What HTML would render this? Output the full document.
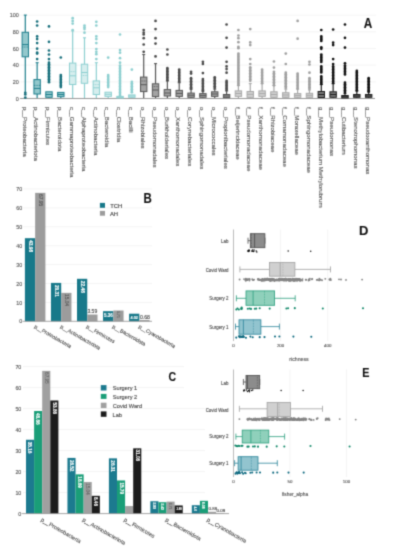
<!DOCTYPE html>
<html><head><meta charset="utf-8"><style>
html,body{margin:0;padding:0;background:#fff;}
svg{display:block;font-family:"Liberation Sans", sans-serif;}
text{stroke-width:0.12px;paint-order:stroke;}
</style></head><body>
<svg width="399" height="550" viewBox="0 0 399 550">
<defs><filter id="bl" x="0" y="0" width="1" height="1" color-interpolation-filters="sRGB"><feConvolveMatrix order="3" kernelMatrix="1 4 1 4 16 4 1 4 1" divisor="36" edgeMode="duplicate"/></filter></defs>
<g filter="url(#bl)">
<rect width="399" height="550" fill="#fff"/>
<line x1="20" y1="81.83" x2="376" y2="81.83" stroke="#efefef" stroke-width="0.7" />
<line x1="20" y1="65.16" x2="376" y2="65.16" stroke="#efefef" stroke-width="0.7" />
<line x1="20" y1="48.49" x2="376" y2="48.49" stroke="#efefef" stroke-width="0.7" />
<line x1="20" y1="31.82" x2="376" y2="31.82" stroke="#efefef" stroke-width="0.7" />
<line x1="20" y1="15.15" x2="376" y2="15.15" stroke="#efefef" stroke-width="0.7" />
<text transform="translate(15.76 100.64) scale(0.88 1)" font-size="6.2" fill="#555" stroke="#555" text-anchor="start" font-weight="normal" >0</text>
<text transform="translate(12.73 83.97) scale(0.88 1)" font-size="6.2" fill="#555" stroke="#555" text-anchor="start" font-weight="normal" >20</text>
<text transform="translate(12.73 67.3) scale(0.88 1)" font-size="6.2" fill="#555" stroke="#555" text-anchor="start" font-weight="normal" >40</text>
<text transform="translate(12.73 50.63) scale(0.88 1)" font-size="6.2" fill="#555" stroke="#555" text-anchor="start" font-weight="normal" >60</text>
<text transform="translate(12.73 33.96) scale(0.88 1)" font-size="6.2" fill="#555" stroke="#555" text-anchor="start" font-weight="normal" >80</text>
<text transform="translate(9.71 17.29) scale(0.88 1)" font-size="6.2" fill="#555" stroke="#555" text-anchor="start" font-weight="normal" >100</text>
<line x1="20" y1="98.5" x2="375" y2="98.5" stroke="#8f8f8f" stroke-width="0.9" />
<line x1="25.3" y1="15.1" x2="25.3" y2="32.3" stroke="#1d7e8c" stroke-width="1.2" />
<line x1="25.3" y1="56.8" x2="25.3" y2="92.7" stroke="#1d7e8c" stroke-width="1.2" />
<line x1="23.8" y1="15.1" x2="26.8" y2="15.1" stroke="#1d7e8c" stroke-width="1.1" />
<rect x="22.1" y="32.3" width="6.4" height="24.5" fill="#93c8cc" stroke="#1d7e8c" stroke-width="1.0" />
<line x1="22.1" y1="44.6" x2="28.5" y2="44.6" stroke="#1d7e8c" stroke-width="1.0" />
<line x1="22.1" y1="47" x2="28.5" y2="47" stroke="#1d7e8c" stroke-width="0.8" stroke-dasharray="1 0.7"/>
<circle cx="25.3" cy="92.8" r="1.35" fill="#176f7c"/>
<circle cx="25.3" cy="94.5" r="1.35" fill="#176f7c"/>
<circle cx="25.3" cy="97.6" r="1.35" fill="#176f7c"/>
<text transform="translate(22.5 106.9) rotate(90)" font-size="6.1" fill="#505050" stroke="#505050" text-anchor="start" font-weight="normal" >p__Proteobacteria</text>
<line x1="37.14" y1="62.7" x2="37.14" y2="79.6" stroke="#1d7e8c" stroke-width="1.2" />
<line x1="37.14" y1="94" x2="37.14" y2="98" stroke="#1d7e8c" stroke-width="1.2" />
<line x1="35.64" y1="62.7" x2="38.64" y2="62.7" stroke="#1d7e8c" stroke-width="1.1" />
<rect x="33.94" y="79.6" width="6.4" height="14.4" fill="#93c8cc" stroke="#1d7e8c" stroke-width="1.0" />
<line x1="33.94" y1="88.4" x2="40.34" y2="88.4" stroke="#1d7e8c" stroke-width="1.0" />
<line x1="33.94" y1="85.4" x2="40.34" y2="85.4" stroke="#1d7e8c" stroke-width="0.8" stroke-dasharray="1 0.7"/>
<circle cx="37.14" cy="21.5" r="1.35" fill="#176f7c"/>
<circle cx="37.14" cy="25.5" r="1.35" fill="#176f7c"/>
<circle cx="37.14" cy="36.4" r="1.35" fill="#176f7c"/>
<circle cx="37.14" cy="39.1" r="1.35" fill="#176f7c"/>
<circle cx="37.14" cy="43.1" r="1.35" fill="#176f7c"/>
<circle cx="37.14" cy="48.7" r="1.35" fill="#176f7c"/>
<circle cx="37.14" cy="52.7" r="1.35" fill="#176f7c"/>
<circle cx="37.14" cy="53.6" r="1.35" fill="#176f7c"/>
<circle cx="37.14" cy="59.1" r="1.35" fill="#176f7c"/>
<text transform="translate(34.34 106.9) rotate(90)" font-size="6.1" fill="#505050" stroke="#505050" text-anchor="start" font-weight="normal" >p__Actinobacteriota</text>
<line x1="48.98" y1="91.8" x2="48.98" y2="91.8" stroke="#1d7e8c" stroke-width="1.2" />
<line x1="48.98" y1="97.3" x2="48.98" y2="98" stroke="#1d7e8c" stroke-width="1.2" />
<rect x="45.78" y="91.8" width="6.4" height="5.5" fill="#93c8cc" stroke="#1d7e8c" stroke-width="1.0" />
<line x1="45.78" y1="94.5" x2="52.18" y2="94.5" stroke="#1d7e8c" stroke-width="1.0" />
<circle cx="48.98" cy="26.4" r="1.35" fill="#176f7c"/>
<circle cx="48.98" cy="41.8" r="1.35" fill="#176f7c"/>
<circle cx="48.98" cy="50.5" r="1.35" fill="#176f7c"/>
<circle cx="48.98" cy="54.5" r="1.35" fill="#176f7c"/>
<circle cx="48.98" cy="59.1" r="1.35" fill="#176f7c"/>
<circle cx="48.98" cy="62.7" r="1.35" fill="#176f7c"/>
<circle cx="48.98" cy="64.2" r="1.35" fill="#176f7c"/>
<circle cx="48.98" cy="65.7" r="1.35" fill="#176f7c"/>
<circle cx="48.98" cy="67.2" r="1.35" fill="#176f7c"/>
<circle cx="48.98" cy="68.7" r="1.35" fill="#176f7c"/>
<circle cx="48.98" cy="70.2" r="1.35" fill="#176f7c"/>
<circle cx="48.98" cy="71.7" r="1.35" fill="#176f7c"/>
<circle cx="48.98" cy="73.2" r="1.35" fill="#176f7c"/>
<circle cx="48.98" cy="74.7" r="1.35" fill="#176f7c"/>
<circle cx="48.98" cy="76.2" r="1.35" fill="#176f7c"/>
<circle cx="48.98" cy="77.7" r="1.35" fill="#176f7c"/>
<circle cx="48.98" cy="79.2" r="1.35" fill="#176f7c"/>
<circle cx="48.98" cy="80.7" r="1.35" fill="#176f7c"/>
<circle cx="48.98" cy="82.2" r="1.35" fill="#176f7c"/>
<text transform="translate(46.18 106.9) rotate(90)" font-size="6.1" fill="#505050" stroke="#505050" text-anchor="start" font-weight="normal" >p__Firmicutes</text>
<line x1="60.82" y1="92.4" x2="60.82" y2="92.4" stroke="#1d7e8c" stroke-width="1.2" />
<line x1="60.82" y1="96.7" x2="60.82" y2="98" stroke="#1d7e8c" stroke-width="1.2" />
<rect x="57.62" y="92.4" width="6.4" height="4.3" fill="#93c8cc" stroke="#1d7e8c" stroke-width="1.0" />
<line x1="57.62" y1="94.5" x2="64.02" y2="94.5" stroke="#1d7e8c" stroke-width="1.0" />
<circle cx="60.82" cy="57.5" r="1.35" fill="#176f7c"/>
<circle cx="60.82" cy="75.1" r="1.35" fill="#176f7c"/>
<circle cx="60.82" cy="76.6" r="1.35" fill="#176f7c"/>
<circle cx="60.82" cy="78.1" r="1.35" fill="#176f7c"/>
<circle cx="60.82" cy="79.6" r="1.35" fill="#176f7c"/>
<circle cx="60.82" cy="81.1" r="1.35" fill="#176f7c"/>
<circle cx="60.82" cy="82.6" r="1.35" fill="#176f7c"/>
<circle cx="60.82" cy="84.1" r="1.35" fill="#176f7c"/>
<circle cx="60.82" cy="85.6" r="1.35" fill="#176f7c"/>
<circle cx="60.82" cy="87.1" r="1.35" fill="#176f7c"/>
<text transform="translate(58.02 106.9) rotate(90)" font-size="6.1" fill="#505050" stroke="#505050" text-anchor="start" font-weight="normal" >p__Bacteroidota</text>
<line x1="72.66" y1="30.9" x2="72.66" y2="63.1" stroke="#8dcfd0" stroke-width="1.2" />
<line x1="72.66" y1="84.5" x2="72.66" y2="98" stroke="#8dcfd0" stroke-width="1.2" />
<line x1="71.16" y1="30.9" x2="74.16" y2="30.9" stroke="#8dcfd0" stroke-width="1.1" />
<rect x="69.46" y="63.1" width="6.4" height="21.4" fill="#d6eeee" stroke="#8dcfd0" stroke-width="1.0" />
<line x1="69.46" y1="75.8" x2="75.86" y2="75.8" stroke="#8dcfd0" stroke-width="1.0" />
<line x1="69.46" y1="71.6" x2="75.86" y2="71.6" stroke="#8dcfd0" stroke-width="0.8" stroke-dasharray="1 0.7"/>
<circle cx="72.66" cy="18.2" r="1.35" fill="#8dcfd0"/>
<circle cx="72.66" cy="20.9" r="1.35" fill="#8dcfd0"/>
<circle cx="72.66" cy="23.6" r="1.35" fill="#8dcfd0"/>
<circle cx="72.66" cy="30" r="1.35" fill="#8dcfd0"/>
<text transform="translate(69.86 106.9) rotate(90)" font-size="6.1" fill="#505050" stroke="#505050" text-anchor="start" font-weight="normal" >c__Gammaproteobacteria</text>
<line x1="84.5" y1="37.8" x2="84.5" y2="64.2" stroke="#8dcfd0" stroke-width="1.2" />
<line x1="84.5" y1="83.3" x2="84.5" y2="98" stroke="#8dcfd0" stroke-width="1.2" />
<line x1="83" y1="37.8" x2="86" y2="37.8" stroke="#8dcfd0" stroke-width="1.1" />
<rect x="81.3" y="64.2" width="6.4" height="19.1" fill="#d6eeee" stroke="#8dcfd0" stroke-width="1.0" />
<line x1="81.3" y1="72.5" x2="87.7" y2="72.5" stroke="#8dcfd0" stroke-width="1.0" />
<line x1="81.3" y1="75.5" x2="87.7" y2="75.5" stroke="#8dcfd0" stroke-width="0.8" stroke-dasharray="1 0.7"/>
<circle cx="84.5" cy="25.5" r="1.35" fill="#8dcfd0"/>
<circle cx="84.5" cy="27.3" r="1.35" fill="#8dcfd0"/>
<circle cx="84.5" cy="29.1" r="1.35" fill="#8dcfd0"/>
<circle cx="84.5" cy="32.7" r="1.35" fill="#8dcfd0"/>
<text transform="translate(81.7 106.9) rotate(90)" font-size="6.1" fill="#505050" stroke="#505050" text-anchor="start" font-weight="normal" >c__Alphaproteobacteria</text>
<line x1="96.34" y1="62.7" x2="96.34" y2="80.9" stroke="#8dcfd0" stroke-width="1.2" />
<line x1="96.34" y1="94.5" x2="96.34" y2="98" stroke="#8dcfd0" stroke-width="1.2" />
<line x1="94.84" y1="62.7" x2="97.84" y2="62.7" stroke="#8dcfd0" stroke-width="1.1" />
<rect x="93.14" y="80.9" width="6.4" height="13.6" fill="#d6eeee" stroke="#8dcfd0" stroke-width="1.0" />
<line x1="93.14" y1="87.8" x2="99.54" y2="87.8" stroke="#8dcfd0" stroke-width="1.0" />
<line x1="93.14" y1="84.6" x2="99.54" y2="84.6" stroke="#8dcfd0" stroke-width="0.8" stroke-dasharray="1 0.7"/>
<circle cx="96.34" cy="21.8" r="1.35" fill="#8dcfd0"/>
<circle cx="96.34" cy="25.5" r="1.35" fill="#8dcfd0"/>
<circle cx="96.34" cy="36.4" r="1.35" fill="#8dcfd0"/>
<circle cx="96.34" cy="39.1" r="1.35" fill="#8dcfd0"/>
<circle cx="96.34" cy="43.1" r="1.35" fill="#8dcfd0"/>
<circle cx="96.34" cy="49.1" r="1.35" fill="#8dcfd0"/>
<circle cx="96.34" cy="51.8" r="1.35" fill="#8dcfd0"/>
<circle cx="96.34" cy="54.2" r="1.35" fill="#8dcfd0"/>
<circle cx="96.34" cy="59.1" r="1.35" fill="#8dcfd0"/>
<text transform="translate(93.54 106.9) rotate(90)" font-size="6.1" fill="#505050" stroke="#505050" text-anchor="start" font-weight="normal" >c__Actinobacteria</text>
<line x1="108.18" y1="92.2" x2="108.18" y2="92.2" stroke="#8dcfd0" stroke-width="1.2" />
<line x1="108.18" y1="96.4" x2="108.18" y2="98" stroke="#8dcfd0" stroke-width="1.2" />
<rect x="104.98" y="92.2" width="6.4" height="4.2" fill="#d6eeee" stroke="#8dcfd0" stroke-width="1.0" />
<line x1="104.98" y1="94.3" x2="111.38" y2="94.3" stroke="#8dcfd0" stroke-width="1.0" />
<circle cx="108.18" cy="57.6" r="1.35" fill="#8dcfd0"/>
<circle cx="108.18" cy="75.1" r="1.35" fill="#8dcfd0"/>
<circle cx="108.18" cy="76.6" r="1.35" fill="#8dcfd0"/>
<circle cx="108.18" cy="78.1" r="1.35" fill="#8dcfd0"/>
<circle cx="108.18" cy="79.6" r="1.35" fill="#8dcfd0"/>
<circle cx="108.18" cy="81.1" r="1.35" fill="#8dcfd0"/>
<circle cx="108.18" cy="82.6" r="1.35" fill="#8dcfd0"/>
<circle cx="108.18" cy="84.1" r="1.35" fill="#8dcfd0"/>
<circle cx="108.18" cy="85.6" r="1.35" fill="#8dcfd0"/>
<circle cx="108.18" cy="87.1" r="1.35" fill="#8dcfd0"/>
<text transform="translate(105.38 106.9) rotate(90)" font-size="6.1" fill="#505050" stroke="#505050" text-anchor="start" font-weight="normal" >c__Bacteroidia</text>
<line x1="120.02" y1="96.4" x2="120.02" y2="96.4" stroke="#8dcfd0" stroke-width="1.2" />
<line x1="120.02" y1="98" x2="120.02" y2="98" stroke="#8dcfd0" stroke-width="1.2" />
<rect x="116.82" y="96.4" width="6.4" height="1.6" fill="#d6eeee" stroke="#8dcfd0" stroke-width="1.0" />
<line x1="116.82" y1="97.2" x2="123.22" y2="97.2" stroke="#8dcfd0" stroke-width="1.0" />
<circle cx="120.02" cy="34.5" r="1.35" fill="#8dcfd0"/>
<circle cx="120.02" cy="50" r="1.35" fill="#8dcfd0"/>
<circle cx="120.02" cy="52.7" r="1.35" fill="#8dcfd0"/>
<circle cx="120.02" cy="58.2" r="1.35" fill="#8dcfd0"/>
<circle cx="120.02" cy="62.7" r="1.35" fill="#8dcfd0"/>
<circle cx="120.02" cy="65.5" r="1.35" fill="#8dcfd0"/>
<circle cx="120.02" cy="67" r="1.35" fill="#8dcfd0"/>
<circle cx="120.02" cy="68.5" r="1.35" fill="#8dcfd0"/>
<circle cx="120.02" cy="70" r="1.35" fill="#8dcfd0"/>
<circle cx="120.02" cy="71.5" r="1.35" fill="#8dcfd0"/>
<circle cx="120.02" cy="73" r="1.35" fill="#8dcfd0"/>
<circle cx="120.02" cy="74.5" r="1.35" fill="#8dcfd0"/>
<circle cx="120.02" cy="76" r="1.35" fill="#8dcfd0"/>
<circle cx="120.02" cy="77.5" r="1.35" fill="#8dcfd0"/>
<circle cx="120.02" cy="79" r="1.35" fill="#8dcfd0"/>
<circle cx="120.02" cy="80.5" r="1.35" fill="#8dcfd0"/>
<circle cx="120.02" cy="82" r="1.35" fill="#8dcfd0"/>
<circle cx="120.02" cy="83.5" r="1.35" fill="#8dcfd0"/>
<circle cx="120.02" cy="85" r="1.35" fill="#8dcfd0"/>
<circle cx="120.02" cy="86.5" r="1.35" fill="#8dcfd0"/>
<circle cx="120.02" cy="88" r="1.35" fill="#8dcfd0"/>
<circle cx="120.02" cy="89.5" r="1.35" fill="#8dcfd0"/>
<circle cx="120.02" cy="91" r="1.35" fill="#8dcfd0"/>
<circle cx="120.02" cy="92.5" r="1.35" fill="#8dcfd0"/>
<circle cx="120.02" cy="94" r="1.35" fill="#8dcfd0"/>
<circle cx="120.02" cy="95.5" r="1.35" fill="#8dcfd0"/>
<text transform="translate(117.22 106.9) rotate(90)" font-size="6.1" fill="#505050" stroke="#505050" text-anchor="start" font-weight="normal" >c__Clostridia</text>
<line x1="131.86" y1="94.9" x2="131.86" y2="94.9" stroke="#8dcfd0" stroke-width="1.2" />
<line x1="131.86" y1="97.3" x2="131.86" y2="98" stroke="#8dcfd0" stroke-width="1.2" />
<rect x="128.66" y="94.9" width="6.4" height="2.4" fill="#d6eeee" stroke="#8dcfd0" stroke-width="1.0" />
<line x1="128.66" y1="96" x2="135.06" y2="96" stroke="#8dcfd0" stroke-width="1.0" />
<circle cx="131.86" cy="69.6" r="1.35" fill="#8dcfd0"/>
<circle cx="131.86" cy="81.8" r="1.35" fill="#8dcfd0"/>
<circle cx="131.86" cy="83.3" r="1.35" fill="#8dcfd0"/>
<circle cx="131.86" cy="84.8" r="1.35" fill="#8dcfd0"/>
<circle cx="131.86" cy="86.3" r="1.35" fill="#8dcfd0"/>
<circle cx="131.86" cy="87.8" r="1.35" fill="#8dcfd0"/>
<circle cx="131.86" cy="89.3" r="1.35" fill="#8dcfd0"/>
<circle cx="131.86" cy="90.8" r="1.35" fill="#8dcfd0"/>
<circle cx="131.86" cy="92.3" r="1.35" fill="#8dcfd0"/>
<text transform="translate(129.06 106.9) rotate(90)" font-size="6.1" fill="#505050" stroke="#505050" text-anchor="start" font-weight="normal" >c__Bacilli</text>
<line x1="143.7" y1="54.5" x2="143.7" y2="77.1" stroke="#555555" stroke-width="1.2" />
<line x1="143.7" y1="91.6" x2="143.7" y2="98" stroke="#555555" stroke-width="1.2" />
<line x1="142.2" y1="54.5" x2="145.2" y2="54.5" stroke="#555555" stroke-width="1.1" />
<rect x="140.5" y="77.1" width="6.4" height="14.5" fill="#a3a3a3" stroke="#555555" stroke-width="1.0" />
<line x1="140.5" y1="84.7" x2="146.9" y2="84.7" stroke="#555555" stroke-width="1.0" />
<line x1="140.5" y1="81" x2="146.9" y2="81" stroke="#555555" stroke-width="0.8" stroke-dasharray="1 0.7"/>
<circle cx="143.7" cy="30" r="1.35" fill="#4a4a4a"/>
<circle cx="143.7" cy="32.7" r="1.35" fill="#4a4a4a"/>
<circle cx="143.7" cy="34.5" r="1.35" fill="#4a4a4a"/>
<circle cx="143.7" cy="38.2" r="1.35" fill="#4a4a4a"/>
<circle cx="143.7" cy="44.5" r="1.35" fill="#4a4a4a"/>
<circle cx="143.7" cy="51.8" r="1.35" fill="#4a4a4a"/>
<text transform="translate(140.9 106.9) rotate(90)" font-size="6.1" fill="#505050" stroke="#505050" text-anchor="start" font-weight="normal" >o__Rhizobiales</text>
<line x1="155.54" y1="63.6" x2="155.54" y2="83.8" stroke="#555555" stroke-width="1.2" />
<line x1="155.54" y1="96.6" x2="155.54" y2="98" stroke="#555555" stroke-width="1.2" />
<line x1="154.04" y1="63.6" x2="157.04" y2="63.6" stroke="#555555" stroke-width="1.1" />
<rect x="152.34" y="83.8" width="6.4" height="12.8" fill="#a3a3a3" stroke="#555555" stroke-width="1.0" />
<line x1="152.34" y1="90" x2="158.74" y2="90" stroke="#555555" stroke-width="1.0" />
<line x1="152.34" y1="86.6" x2="158.74" y2="86.6" stroke="#555555" stroke-width="0.8" stroke-dasharray="1 0.7"/>
<circle cx="155.54" cy="20.9" r="1.35" fill="#4a4a4a"/>
<circle cx="155.54" cy="29.1" r="1.35" fill="#4a4a4a"/>
<circle cx="155.54" cy="38.2" r="1.35" fill="#4a4a4a"/>
<circle cx="155.54" cy="43.6" r="1.35" fill="#4a4a4a"/>
<circle cx="155.54" cy="56.4" r="1.35" fill="#4a4a4a"/>
<text transform="translate(152.74 106.9) rotate(90)" font-size="6.1" fill="#505050" stroke="#505050" text-anchor="start" font-weight="normal" >o__Pseudomonadales</text>
<line x1="167.38" y1="80.9" x2="167.38" y2="89.6" stroke="#555555" stroke-width="1.2" />
<line x1="167.38" y1="96" x2="167.38" y2="98" stroke="#555555" stroke-width="1.2" />
<line x1="165.88" y1="80.9" x2="168.88" y2="80.9" stroke="#555555" stroke-width="1.1" />
<rect x="164.18" y="89.6" width="6.4" height="6.4" fill="#a3a3a3" stroke="#555555" stroke-width="1.0" />
<line x1="164.18" y1="93" x2="170.58" y2="93" stroke="#555555" stroke-width="1.0" />
<circle cx="167.38" cy="49.5" r="1.35" fill="#4a4a4a"/>
<circle cx="167.38" cy="54.5" r="1.35" fill="#4a4a4a"/>
<circle cx="167.38" cy="68.2" r="1.35" fill="#4a4a4a"/>
<circle cx="167.38" cy="69.7" r="1.35" fill="#4a4a4a"/>
<circle cx="167.38" cy="71.2" r="1.35" fill="#4a4a4a"/>
<circle cx="167.38" cy="72.7" r="1.35" fill="#4a4a4a"/>
<circle cx="167.38" cy="74.2" r="1.35" fill="#4a4a4a"/>
<circle cx="167.38" cy="75.7" r="1.35" fill="#4a4a4a"/>
<circle cx="167.38" cy="77.2" r="1.35" fill="#4a4a4a"/>
<circle cx="167.38" cy="78.7" r="1.35" fill="#4a4a4a"/>
<circle cx="167.38" cy="80.2" r="1.35" fill="#4a4a4a"/>
<text transform="translate(164.58 106.9) rotate(90)" font-size="6.1" fill="#505050" stroke="#505050" text-anchor="start" font-weight="normal" >o__Burkholderiales</text>
<line x1="179.22" y1="82.7" x2="179.22" y2="90.4" stroke="#555555" stroke-width="1.2" />
<line x1="179.22" y1="96.4" x2="179.22" y2="98" stroke="#555555" stroke-width="1.2" />
<line x1="177.72" y1="82.7" x2="180.72" y2="82.7" stroke="#555555" stroke-width="1.1" />
<rect x="176.02" y="90.4" width="6.4" height="6" fill="#a3a3a3" stroke="#555555" stroke-width="1.0" />
<line x1="176.02" y1="93.4" x2="182.42" y2="93.4" stroke="#555555" stroke-width="1.0" />
<circle cx="179.22" cy="69.6" r="1.35" fill="#4a4a4a"/>
<circle cx="179.22" cy="71.1" r="1.35" fill="#4a4a4a"/>
<circle cx="179.22" cy="72.6" r="1.35" fill="#4a4a4a"/>
<circle cx="179.22" cy="74.1" r="1.35" fill="#4a4a4a"/>
<circle cx="179.22" cy="75.6" r="1.35" fill="#4a4a4a"/>
<circle cx="179.22" cy="77.1" r="1.35" fill="#4a4a4a"/>
<circle cx="179.22" cy="78.6" r="1.35" fill="#4a4a4a"/>
<circle cx="179.22" cy="80.1" r="1.35" fill="#4a4a4a"/>
<circle cx="179.22" cy="81.6" r="1.35" fill="#4a4a4a"/>
<text transform="translate(176.42 106.9) rotate(90)" font-size="6.1" fill="#505050" stroke="#505050" text-anchor="start" font-weight="normal" >o__Xanthomonadales</text>
<line x1="191.06" y1="89.1" x2="191.06" y2="93.1" stroke="#555555" stroke-width="1.2" />
<line x1="191.06" y1="97.3" x2="191.06" y2="98" stroke="#555555" stroke-width="1.2" />
<line x1="189.56" y1="89.1" x2="192.56" y2="89.1" stroke="#555555" stroke-width="1.1" />
<rect x="187.86" y="93.1" width="6.4" height="4.2" fill="#a3a3a3" stroke="#555555" stroke-width="1.0" />
<line x1="187.86" y1="95.2" x2="194.26" y2="95.2" stroke="#555555" stroke-width="1.0" />
<circle cx="191.06" cy="71.8" r="1.35" fill="#4a4a4a"/>
<circle cx="191.06" cy="73.6" r="1.35" fill="#4a4a4a"/>
<circle cx="191.06" cy="78.2" r="1.35" fill="#4a4a4a"/>
<circle cx="191.06" cy="79.7" r="1.35" fill="#4a4a4a"/>
<circle cx="191.06" cy="81.2" r="1.35" fill="#4a4a4a"/>
<circle cx="191.06" cy="82.7" r="1.35" fill="#4a4a4a"/>
<circle cx="191.06" cy="84.2" r="1.35" fill="#4a4a4a"/>
<circle cx="191.06" cy="85.7" r="1.35" fill="#4a4a4a"/>
<circle cx="191.06" cy="87.2" r="1.35" fill="#4a4a4a"/>
<circle cx="191.06" cy="88.7" r="1.35" fill="#4a4a4a"/>
<text transform="translate(188.26 106.9) rotate(90)" font-size="6.1" fill="#505050" stroke="#505050" text-anchor="start" font-weight="normal" >o__Corynebacteriales</text>
<line x1="202.9" y1="91" x2="202.9" y2="93.6" stroke="#555555" stroke-width="1.2" />
<line x1="202.9" y1="97.3" x2="202.9" y2="98" stroke="#555555" stroke-width="1.2" />
<line x1="201.4" y1="91" x2="204.4" y2="91" stroke="#555555" stroke-width="1.1" />
<rect x="199.7" y="93.6" width="6.4" height="3.7" fill="#a3a3a3" stroke="#555555" stroke-width="1.0" />
<line x1="199.7" y1="95.4" x2="206.1" y2="95.4" stroke="#555555" stroke-width="1.0" />
<circle cx="202.9" cy="61.8" r="1.35" fill="#4a4a4a"/>
<circle cx="202.9" cy="64" r="1.35" fill="#4a4a4a"/>
<circle cx="202.9" cy="73.1" r="1.35" fill="#4a4a4a"/>
<circle cx="202.9" cy="79" r="1.35" fill="#4a4a4a"/>
<circle cx="202.9" cy="80.5" r="1.35" fill="#4a4a4a"/>
<circle cx="202.9" cy="82" r="1.35" fill="#4a4a4a"/>
<circle cx="202.9" cy="83.5" r="1.35" fill="#4a4a4a"/>
<circle cx="202.9" cy="85" r="1.35" fill="#4a4a4a"/>
<circle cx="202.9" cy="86.5" r="1.35" fill="#4a4a4a"/>
<circle cx="202.9" cy="88" r="1.35" fill="#4a4a4a"/>
<circle cx="202.9" cy="89.5" r="1.35" fill="#4a4a4a"/>
<circle cx="202.9" cy="91" r="1.35" fill="#4a4a4a"/>
<text transform="translate(200.1 106.9) rotate(90)" font-size="6.1" fill="#505050" stroke="#505050" text-anchor="start" font-weight="normal" >o__Sphingomonadales</text>
<line x1="214.74" y1="89.1" x2="214.74" y2="91.8" stroke="#555555" stroke-width="1.2" />
<line x1="214.74" y1="96.4" x2="214.74" y2="98" stroke="#555555" stroke-width="1.2" />
<line x1="213.24" y1="89.1" x2="216.24" y2="89.1" stroke="#555555" stroke-width="1.1" />
<rect x="211.54" y="91.8" width="6.4" height="4.6" fill="#a3a3a3" stroke="#555555" stroke-width="1.0" />
<line x1="211.54" y1="94" x2="217.94" y2="94" stroke="#555555" stroke-width="1.0" />
<circle cx="214.74" cy="77.3" r="1.35" fill="#4a4a4a"/>
<circle cx="214.74" cy="78.8" r="1.35" fill="#4a4a4a"/>
<circle cx="214.74" cy="80.3" r="1.35" fill="#4a4a4a"/>
<circle cx="214.74" cy="81.8" r="1.35" fill="#4a4a4a"/>
<circle cx="214.74" cy="83.3" r="1.35" fill="#4a4a4a"/>
<circle cx="214.74" cy="84.8" r="1.35" fill="#4a4a4a"/>
<circle cx="214.74" cy="86.3" r="1.35" fill="#4a4a4a"/>
<circle cx="214.74" cy="87.8" r="1.35" fill="#4a4a4a"/>
<text transform="translate(211.94 106.9) rotate(90)" font-size="6.1" fill="#505050" stroke="#505050" text-anchor="start" font-weight="normal" >o__Micrococcales</text>
<line x1="226.58" y1="90.9" x2="226.58" y2="94.5" stroke="#555555" stroke-width="1.2" />
<line x1="226.58" y1="97.6" x2="226.58" y2="98" stroke="#555555" stroke-width="1.2" />
<line x1="225.08" y1="90.9" x2="228.08" y2="90.9" stroke="#555555" stroke-width="1.1" />
<rect x="223.38" y="94.5" width="6.4" height="3.1" fill="#a3a3a3" stroke="#555555" stroke-width="1.0" />
<line x1="223.38" y1="96" x2="229.78" y2="96" stroke="#555555" stroke-width="1.0" />
<circle cx="226.58" cy="24.5" r="1.35" fill="#4a4a4a"/>
<circle cx="226.58" cy="37.8" r="1.35" fill="#4a4a4a"/>
<circle cx="226.58" cy="47.6" r="1.35" fill="#4a4a4a"/>
<circle cx="226.58" cy="61.8" r="1.35" fill="#4a4a4a"/>
<circle cx="226.58" cy="66.4" r="1.35" fill="#4a4a4a"/>
<circle cx="226.58" cy="69.1" r="1.35" fill="#4a4a4a"/>
<circle cx="226.58" cy="72.7" r="1.35" fill="#4a4a4a"/>
<circle cx="226.58" cy="80.9" r="1.35" fill="#4a4a4a"/>
<circle cx="226.58" cy="82.4" r="1.35" fill="#4a4a4a"/>
<circle cx="226.58" cy="83.9" r="1.35" fill="#4a4a4a"/>
<circle cx="226.58" cy="85.4" r="1.35" fill="#4a4a4a"/>
<circle cx="226.58" cy="86.9" r="1.35" fill="#4a4a4a"/>
<circle cx="226.58" cy="88.4" r="1.35" fill="#4a4a4a"/>
<circle cx="226.58" cy="89.9" r="1.35" fill="#4a4a4a"/>
<text transform="translate(223.78 106.9) rotate(90)" font-size="6.1" fill="#505050" stroke="#505050" text-anchor="start" font-weight="normal" >o__Propionibacteriales</text>
<line x1="238.42" y1="85.5" x2="238.42" y2="90.9" stroke="#a8a8a8" stroke-width="1.2" />
<line x1="238.42" y1="96.4" x2="238.42" y2="98" stroke="#a8a8a8" stroke-width="1.2" />
<line x1="236.92" y1="85.5" x2="239.92" y2="85.5" stroke="#a8a8a8" stroke-width="1.1" />
<rect x="235.22" y="90.9" width="6.4" height="5.5" fill="#d0d0d0" stroke="#a8a8a8" stroke-width="1.0" />
<line x1="235.22" y1="93.5" x2="241.62" y2="93.5" stroke="#a8a8a8" stroke-width="1.0" />
<circle cx="238.42" cy="30" r="1.35" fill="#a0a0a0"/>
<circle cx="238.42" cy="35.5" r="1.35" fill="#a0a0a0"/>
<circle cx="238.42" cy="38.2" r="1.35" fill="#a0a0a0"/>
<circle cx="238.42" cy="42.2" r="1.35" fill="#a0a0a0"/>
<circle cx="238.42" cy="46.9" r="1.35" fill="#a0a0a0"/>
<circle cx="238.42" cy="48.2" r="1.35" fill="#a0a0a0"/>
<circle cx="238.42" cy="53.6" r="1.35" fill="#a0a0a0"/>
<circle cx="238.42" cy="55.1" r="1.35" fill="#a0a0a0"/>
<circle cx="238.42" cy="56.6" r="1.35" fill="#a0a0a0"/>
<circle cx="238.42" cy="58.1" r="1.35" fill="#a0a0a0"/>
<circle cx="238.42" cy="59.6" r="1.35" fill="#a0a0a0"/>
<circle cx="238.42" cy="61.1" r="1.35" fill="#a0a0a0"/>
<circle cx="238.42" cy="62.6" r="1.35" fill="#a0a0a0"/>
<circle cx="238.42" cy="64.1" r="1.35" fill="#a0a0a0"/>
<circle cx="238.42" cy="65.6" r="1.35" fill="#a0a0a0"/>
<circle cx="238.42" cy="67.1" r="1.35" fill="#a0a0a0"/>
<circle cx="238.42" cy="68.6" r="1.35" fill="#a0a0a0"/>
<circle cx="238.42" cy="70.1" r="1.35" fill="#a0a0a0"/>
<circle cx="238.42" cy="71.6" r="1.35" fill="#a0a0a0"/>
<circle cx="238.42" cy="73.1" r="1.35" fill="#a0a0a0"/>
<circle cx="238.42" cy="74.6" r="1.35" fill="#a0a0a0"/>
<circle cx="238.42" cy="76.1" r="1.35" fill="#a0a0a0"/>
<circle cx="238.42" cy="77.6" r="1.35" fill="#a0a0a0"/>
<circle cx="238.42" cy="79.1" r="1.35" fill="#a0a0a0"/>
<circle cx="238.42" cy="80.6" r="1.35" fill="#a0a0a0"/>
<circle cx="238.42" cy="82.1" r="1.35" fill="#a0a0a0"/>
<circle cx="238.42" cy="83.6" r="1.35" fill="#a0a0a0"/>
<circle cx="238.42" cy="85.1" r="1.35" fill="#a0a0a0"/>
<text transform="translate(235.62 106.9) rotate(90)" font-size="6.1" fill="#505050" stroke="#505050" text-anchor="start" font-weight="normal" >f__Beijerinckiaceae</text>
<line x1="250.26" y1="83.6" x2="250.26" y2="91.5" stroke="#a8a8a8" stroke-width="1.2" />
<line x1="250.26" y1="97.3" x2="250.26" y2="98" stroke="#a8a8a8" stroke-width="1.2" />
<line x1="248.76" y1="83.6" x2="251.76" y2="83.6" stroke="#a8a8a8" stroke-width="1.1" />
<rect x="247.06" y="91.5" width="6.4" height="5.8" fill="#d0d0d0" stroke="#a8a8a8" stroke-width="1.0" />
<line x1="247.06" y1="94.3" x2="253.46" y2="94.3" stroke="#a8a8a8" stroke-width="1.0" />
<circle cx="250.26" cy="29.1" r="1.35" fill="#a0a0a0"/>
<circle cx="250.26" cy="42.4" r="1.35" fill="#a0a0a0"/>
<circle cx="250.26" cy="45.1" r="1.35" fill="#a0a0a0"/>
<circle cx="250.26" cy="59.1" r="1.35" fill="#a0a0a0"/>
<circle cx="250.26" cy="64" r="1.35" fill="#a0a0a0"/>
<circle cx="250.26" cy="67.3" r="1.35" fill="#a0a0a0"/>
<circle cx="250.26" cy="68.8" r="1.35" fill="#a0a0a0"/>
<circle cx="250.26" cy="70.3" r="1.35" fill="#a0a0a0"/>
<circle cx="250.26" cy="71.8" r="1.35" fill="#a0a0a0"/>
<circle cx="250.26" cy="73.3" r="1.35" fill="#a0a0a0"/>
<circle cx="250.26" cy="74.8" r="1.35" fill="#a0a0a0"/>
<circle cx="250.26" cy="76.3" r="1.35" fill="#a0a0a0"/>
<circle cx="250.26" cy="77.8" r="1.35" fill="#a0a0a0"/>
<circle cx="250.26" cy="79.3" r="1.35" fill="#a0a0a0"/>
<circle cx="250.26" cy="80.8" r="1.35" fill="#a0a0a0"/>
<text transform="translate(247.46 106.9) rotate(90)" font-size="6.1" fill="#505050" stroke="#505050" text-anchor="start" font-weight="normal" >f__Pseudomonadaceae</text>
<line x1="262.1" y1="83.6" x2="262.1" y2="90.9" stroke="#a8a8a8" stroke-width="1.2" />
<line x1="262.1" y1="96.4" x2="262.1" y2="98" stroke="#a8a8a8" stroke-width="1.2" />
<line x1="260.6" y1="83.6" x2="263.6" y2="83.6" stroke="#a8a8a8" stroke-width="1.1" />
<rect x="258.9" y="90.9" width="6.4" height="5.5" fill="#d0d0d0" stroke="#a8a8a8" stroke-width="1.0" />
<line x1="258.9" y1="93.6" x2="265.3" y2="93.6" stroke="#a8a8a8" stroke-width="1.0" />
<circle cx="262.1" cy="69.6" r="1.35" fill="#a0a0a0"/>
<circle cx="262.1" cy="71.1" r="1.35" fill="#a0a0a0"/>
<circle cx="262.1" cy="72.6" r="1.35" fill="#a0a0a0"/>
<circle cx="262.1" cy="74.1" r="1.35" fill="#a0a0a0"/>
<circle cx="262.1" cy="75.6" r="1.35" fill="#a0a0a0"/>
<circle cx="262.1" cy="77.1" r="1.35" fill="#a0a0a0"/>
<circle cx="262.1" cy="78.6" r="1.35" fill="#a0a0a0"/>
<circle cx="262.1" cy="80.1" r="1.35" fill="#a0a0a0"/>
<circle cx="262.1" cy="81.6" r="1.35" fill="#a0a0a0"/>
<circle cx="262.1" cy="83.1" r="1.35" fill="#a0a0a0"/>
<text transform="translate(259.3 106.9) rotate(90)" font-size="6.1" fill="#505050" stroke="#505050" text-anchor="start" font-weight="normal" >f__Xanthomonadaceae</text>
<line x1="273.94" y1="85.5" x2="273.94" y2="91.8" stroke="#a8a8a8" stroke-width="1.2" />
<line x1="273.94" y1="97.3" x2="273.94" y2="98" stroke="#a8a8a8" stroke-width="1.2" />
<line x1="272.44" y1="85.5" x2="275.44" y2="85.5" stroke="#a8a8a8" stroke-width="1.1" />
<rect x="270.74" y="91.8" width="6.4" height="5.5" fill="#d0d0d0" stroke="#a8a8a8" stroke-width="1.0" />
<line x1="270.74" y1="94.5" x2="277.14" y2="94.5" stroke="#a8a8a8" stroke-width="1.0" />
<circle cx="273.94" cy="61.5" r="1.35" fill="#a0a0a0"/>
<circle cx="273.94" cy="67.6" r="1.35" fill="#a0a0a0"/>
<circle cx="273.94" cy="71.8" r="1.35" fill="#a0a0a0"/>
<circle cx="273.94" cy="73.3" r="1.35" fill="#a0a0a0"/>
<circle cx="273.94" cy="74.8" r="1.35" fill="#a0a0a0"/>
<circle cx="273.94" cy="76.3" r="1.35" fill="#a0a0a0"/>
<circle cx="273.94" cy="77.8" r="1.35" fill="#a0a0a0"/>
<circle cx="273.94" cy="79.3" r="1.35" fill="#a0a0a0"/>
<circle cx="273.94" cy="80.8" r="1.35" fill="#a0a0a0"/>
<circle cx="273.94" cy="82.3" r="1.35" fill="#a0a0a0"/>
<circle cx="273.94" cy="83.8" r="1.35" fill="#a0a0a0"/>
<circle cx="273.94" cy="85.3" r="1.35" fill="#a0a0a0"/>
<text transform="translate(271.14 106.9) rotate(90)" font-size="6.1" fill="#505050" stroke="#505050" text-anchor="start" font-weight="normal" >f__Rhizobiaceae</text>
<line x1="285.78" y1="89.1" x2="285.78" y2="92.7" stroke="#a8a8a8" stroke-width="1.2" />
<line x1="285.78" y1="97.3" x2="285.78" y2="98" stroke="#a8a8a8" stroke-width="1.2" />
<line x1="284.28" y1="89.1" x2="287.28" y2="89.1" stroke="#a8a8a8" stroke-width="1.1" />
<rect x="282.58" y="92.7" width="6.4" height="4.6" fill="#d0d0d0" stroke="#a8a8a8" stroke-width="1.0" />
<line x1="282.58" y1="95" x2="288.98" y2="95" stroke="#a8a8a8" stroke-width="1.0" />
<circle cx="285.78" cy="53.6" r="1.35" fill="#a0a0a0"/>
<circle cx="285.78" cy="64" r="1.35" fill="#a0a0a0"/>
<circle cx="285.78" cy="72.7" r="1.35" fill="#a0a0a0"/>
<circle cx="285.78" cy="74.2" r="1.35" fill="#a0a0a0"/>
<circle cx="285.78" cy="75.7" r="1.35" fill="#a0a0a0"/>
<circle cx="285.78" cy="77.2" r="1.35" fill="#a0a0a0"/>
<circle cx="285.78" cy="78.7" r="1.35" fill="#a0a0a0"/>
<circle cx="285.78" cy="80.2" r="1.35" fill="#a0a0a0"/>
<circle cx="285.78" cy="81.7" r="1.35" fill="#a0a0a0"/>
<circle cx="285.78" cy="83.2" r="1.35" fill="#a0a0a0"/>
<circle cx="285.78" cy="84.7" r="1.35" fill="#a0a0a0"/>
<circle cx="285.78" cy="86.2" r="1.35" fill="#a0a0a0"/>
<circle cx="285.78" cy="87.7" r="1.35" fill="#a0a0a0"/>
<text transform="translate(282.98 106.9) rotate(90)" font-size="6.1" fill="#505050" stroke="#505050" text-anchor="start" font-weight="normal" >f__Comamonadaceae</text>
<line x1="297.62" y1="89.1" x2="297.62" y2="93.6" stroke="#a8a8a8" stroke-width="1.2" />
<line x1="297.62" y1="97.3" x2="297.62" y2="98" stroke="#a8a8a8" stroke-width="1.2" />
<line x1="296.12" y1="89.1" x2="299.12" y2="89.1" stroke="#a8a8a8" stroke-width="1.1" />
<rect x="294.42" y="93.6" width="6.4" height="3.7" fill="#d0d0d0" stroke="#a8a8a8" stroke-width="1.0" />
<line x1="294.42" y1="95.4" x2="300.82" y2="95.4" stroke="#a8a8a8" stroke-width="1.0" />
<circle cx="297.62" cy="20.9" r="1.35" fill="#a0a0a0"/>
<circle cx="297.62" cy="38.7" r="1.35" fill="#a0a0a0"/>
<circle cx="297.62" cy="73.6" r="1.35" fill="#a0a0a0"/>
<circle cx="297.62" cy="75.1" r="1.35" fill="#a0a0a0"/>
<circle cx="297.62" cy="76.6" r="1.35" fill="#a0a0a0"/>
<circle cx="297.62" cy="78.1" r="1.35" fill="#a0a0a0"/>
<circle cx="297.62" cy="79.6" r="1.35" fill="#a0a0a0"/>
<circle cx="297.62" cy="81.1" r="1.35" fill="#a0a0a0"/>
<circle cx="297.62" cy="82.6" r="1.35" fill="#a0a0a0"/>
<circle cx="297.62" cy="84.1" r="1.35" fill="#a0a0a0"/>
<circle cx="297.62" cy="85.6" r="1.35" fill="#a0a0a0"/>
<circle cx="297.62" cy="87.1" r="1.35" fill="#a0a0a0"/>
<circle cx="297.62" cy="88.6" r="1.35" fill="#a0a0a0"/>
<text transform="translate(294.82 106.9) rotate(90)" font-size="6.1" fill="#505050" stroke="#505050" text-anchor="start" font-weight="normal" >f__Moraxellaceae</text>
<line x1="309.46" y1="90" x2="309.46" y2="93.3" stroke="#a8a8a8" stroke-width="1.2" />
<line x1="309.46" y1="97.3" x2="309.46" y2="98" stroke="#a8a8a8" stroke-width="1.2" />
<line x1="307.96" y1="90" x2="310.96" y2="90" stroke="#a8a8a8" stroke-width="1.1" />
<rect x="306.26" y="93.3" width="6.4" height="4" fill="#d0d0d0" stroke="#a8a8a8" stroke-width="1.0" />
<line x1="306.26" y1="95.3" x2="312.66" y2="95.3" stroke="#a8a8a8" stroke-width="1.0" />
<circle cx="309.46" cy="61.8" r="1.35" fill="#a0a0a0"/>
<circle cx="309.46" cy="64.5" r="1.35" fill="#a0a0a0"/>
<circle cx="309.46" cy="72.7" r="1.35" fill="#a0a0a0"/>
<circle cx="309.46" cy="78.2" r="1.35" fill="#a0a0a0"/>
<circle cx="309.46" cy="79.7" r="1.35" fill="#a0a0a0"/>
<circle cx="309.46" cy="81.2" r="1.35" fill="#a0a0a0"/>
<circle cx="309.46" cy="82.7" r="1.35" fill="#a0a0a0"/>
<circle cx="309.46" cy="84.2" r="1.35" fill="#a0a0a0"/>
<circle cx="309.46" cy="85.7" r="1.35" fill="#a0a0a0"/>
<circle cx="309.46" cy="87.2" r="1.35" fill="#a0a0a0"/>
<circle cx="309.46" cy="88.7" r="1.35" fill="#a0a0a0"/>
<text transform="translate(306.66 106.9) rotate(90)" font-size="6.1" fill="#505050" stroke="#505050" text-anchor="start" font-weight="normal" >f__Sphingomonadaceae</text>
<line x1="321.3" y1="84.5" x2="321.3" y2="91.5" stroke="#1e1e1e" stroke-width="1.2" />
<line x1="321.3" y1="97.5" x2="321.3" y2="98" stroke="#1e1e1e" stroke-width="1.2" />
<line x1="319.8" y1="84.5" x2="322.8" y2="84.5" stroke="#1e1e1e" stroke-width="1.1" />
<rect x="318.1" y="91.5" width="6.4" height="6" fill="#777777" stroke="#1e1e1e" stroke-width="1.0" />
<line x1="318.1" y1="94.5" x2="324.5" y2="94.5" stroke="#1e1e1e" stroke-width="1.0" />
<circle cx="321.3" cy="30" r="1.35" fill="#111111"/>
<circle cx="321.3" cy="36.4" r="1.35" fill="#111111"/>
<circle cx="321.3" cy="37.9" r="1.35" fill="#111111"/>
<circle cx="321.3" cy="39.4" r="1.35" fill="#111111"/>
<circle cx="321.3" cy="40.9" r="1.35" fill="#111111"/>
<circle cx="321.3" cy="47.3" r="1.35" fill="#111111"/>
<circle cx="321.3" cy="48.8" r="1.35" fill="#111111"/>
<circle cx="321.3" cy="54.5" r="1.35" fill="#111111"/>
<circle cx="321.3" cy="56" r="1.35" fill="#111111"/>
<circle cx="321.3" cy="57.5" r="1.35" fill="#111111"/>
<circle cx="321.3" cy="59" r="1.35" fill="#111111"/>
<circle cx="321.3" cy="60.5" r="1.35" fill="#111111"/>
<circle cx="321.3" cy="62" r="1.35" fill="#111111"/>
<circle cx="321.3" cy="66.4" r="1.35" fill="#111111"/>
<circle cx="321.3" cy="67.9" r="1.35" fill="#111111"/>
<circle cx="321.3" cy="69.4" r="1.35" fill="#111111"/>
<circle cx="321.3" cy="70.9" r="1.35" fill="#111111"/>
<circle cx="321.3" cy="72.4" r="1.35" fill="#111111"/>
<circle cx="321.3" cy="76.4" r="1.35" fill="#111111"/>
<circle cx="321.3" cy="77.9" r="1.35" fill="#111111"/>
<circle cx="321.3" cy="79.4" r="1.35" fill="#111111"/>
<circle cx="321.3" cy="80.9" r="1.35" fill="#111111"/>
<circle cx="321.3" cy="82.4" r="1.35" fill="#111111"/>
<circle cx="321.3" cy="83.9" r="1.35" fill="#111111"/>
<text transform="translate(318.5 106.9) rotate(90)" font-size="6.1" fill="#505050" stroke="#505050" text-anchor="start" font-weight="normal" >g__Methylobacterium Methylorubrum</text>
<line x1="333.14" y1="83.6" x2="333.14" y2="91.8" stroke="#1e1e1e" stroke-width="1.2" />
<line x1="333.14" y1="97.3" x2="333.14" y2="98" stroke="#1e1e1e" stroke-width="1.2" />
<line x1="331.64" y1="83.6" x2="334.64" y2="83.6" stroke="#1e1e1e" stroke-width="1.1" />
<rect x="329.94" y="91.8" width="6.4" height="5.5" fill="#777777" stroke="#1e1e1e" stroke-width="1.0" />
<line x1="329.94" y1="94.5" x2="336.34" y2="94.5" stroke="#1e1e1e" stroke-width="1.0" />
<circle cx="333.14" cy="29.5" r="1.35" fill="#111111"/>
<circle cx="333.14" cy="42.7" r="1.35" fill="#111111"/>
<circle cx="333.14" cy="45.1" r="1.35" fill="#111111"/>
<circle cx="333.14" cy="59.1" r="1.35" fill="#111111"/>
<circle cx="333.14" cy="64" r="1.35" fill="#111111"/>
<circle cx="333.14" cy="66.4" r="1.35" fill="#111111"/>
<circle cx="333.14" cy="67.9" r="1.35" fill="#111111"/>
<circle cx="333.14" cy="69.4" r="1.35" fill="#111111"/>
<circle cx="333.14" cy="70.9" r="1.35" fill="#111111"/>
<circle cx="333.14" cy="72.4" r="1.35" fill="#111111"/>
<circle cx="333.14" cy="73.9" r="1.35" fill="#111111"/>
<circle cx="333.14" cy="75.4" r="1.35" fill="#111111"/>
<circle cx="333.14" cy="76.9" r="1.35" fill="#111111"/>
<circle cx="333.14" cy="78.4" r="1.35" fill="#111111"/>
<circle cx="333.14" cy="79.9" r="1.35" fill="#111111"/>
<circle cx="333.14" cy="81.4" r="1.35" fill="#111111"/>
<circle cx="333.14" cy="82.9" r="1.35" fill="#111111"/>
<text transform="translate(330.34 106.9) rotate(90)" font-size="6.1" fill="#505050" stroke="#505050" text-anchor="start" font-weight="normal" >g__Pseudomonas</text>
<line x1="344.98" y1="94.5" x2="344.98" y2="95.5" stroke="#1e1e1e" stroke-width="1.2" />
<line x1="344.98" y1="98" x2="344.98" y2="98" stroke="#1e1e1e" stroke-width="1.2" />
<rect x="341.78" y="95.5" width="6.4" height="2.5" fill="#777777" stroke="#1e1e1e" stroke-width="1.0" />
<line x1="341.78" y1="96.8" x2="348.18" y2="96.8" stroke="#1e1e1e" stroke-width="1.0" />
<circle cx="344.98" cy="24.5" r="1.35" fill="#111111"/>
<circle cx="344.98" cy="37.8" r="1.35" fill="#111111"/>
<circle cx="344.98" cy="47.6" r="1.35" fill="#111111"/>
<circle cx="344.98" cy="63.3" r="1.35" fill="#111111"/>
<circle cx="344.98" cy="65.5" r="1.35" fill="#111111"/>
<circle cx="344.98" cy="67" r="1.35" fill="#111111"/>
<circle cx="344.98" cy="68.5" r="1.35" fill="#111111"/>
<circle cx="344.98" cy="70" r="1.35" fill="#111111"/>
<circle cx="344.98" cy="71.5" r="1.35" fill="#111111"/>
<circle cx="344.98" cy="73" r="1.35" fill="#111111"/>
<circle cx="344.98" cy="74.5" r="1.35" fill="#111111"/>
<circle cx="344.98" cy="82.7" r="1.35" fill="#111111"/>
<circle cx="344.98" cy="84.2" r="1.35" fill="#111111"/>
<circle cx="344.98" cy="85.7" r="1.35" fill="#111111"/>
<circle cx="344.98" cy="87.2" r="1.35" fill="#111111"/>
<circle cx="344.98" cy="88.7" r="1.35" fill="#111111"/>
<circle cx="344.98" cy="90.2" r="1.35" fill="#111111"/>
<circle cx="344.98" cy="91.7" r="1.35" fill="#111111"/>
<circle cx="344.98" cy="93.2" r="1.35" fill="#111111"/>
<text transform="translate(342.18 106.9) rotate(90)" font-size="6.1" fill="#505050" stroke="#505050" text-anchor="start" font-weight="normal" >g__Cutibacterium</text>
<line x1="356.82" y1="90.9" x2="356.82" y2="94.5" stroke="#1e1e1e" stroke-width="1.2" />
<line x1="356.82" y1="97.3" x2="356.82" y2="98" stroke="#1e1e1e" stroke-width="1.2" />
<line x1="355.32" y1="90.9" x2="358.32" y2="90.9" stroke="#1e1e1e" stroke-width="1.1" />
<rect x="353.62" y="94.5" width="6.4" height="2.8" fill="#777777" stroke="#1e1e1e" stroke-width="1.0" />
<line x1="353.62" y1="96" x2="360.02" y2="96" stroke="#1e1e1e" stroke-width="1.0" />
<circle cx="356.82" cy="70.9" r="1.35" fill="#111111"/>
<circle cx="356.82" cy="72.4" r="1.35" fill="#111111"/>
<circle cx="356.82" cy="73.9" r="1.35" fill="#111111"/>
<circle cx="356.82" cy="75.4" r="1.35" fill="#111111"/>
<circle cx="356.82" cy="76.9" r="1.35" fill="#111111"/>
<circle cx="356.82" cy="78.4" r="1.35" fill="#111111"/>
<circle cx="356.82" cy="79.9" r="1.35" fill="#111111"/>
<circle cx="356.82" cy="81.4" r="1.35" fill="#111111"/>
<circle cx="356.82" cy="82.9" r="1.35" fill="#111111"/>
<circle cx="356.82" cy="84.4" r="1.35" fill="#111111"/>
<circle cx="356.82" cy="85.9" r="1.35" fill="#111111"/>
<circle cx="356.82" cy="87.4" r="1.35" fill="#111111"/>
<circle cx="356.82" cy="88.9" r="1.35" fill="#111111"/>
<circle cx="356.82" cy="90.4" r="1.35" fill="#111111"/>
<text transform="translate(354.02 106.9) rotate(90)" font-size="6.1" fill="#505050" stroke="#505050" text-anchor="start" font-weight="normal" >g__Stenotrophomonas</text>
<line x1="368.66" y1="91.8" x2="368.66" y2="94.5" stroke="#1e1e1e" stroke-width="1.2" />
<line x1="368.66" y1="97.3" x2="368.66" y2="98" stroke="#1e1e1e" stroke-width="1.2" />
<line x1="367.16" y1="91.8" x2="370.16" y2="91.8" stroke="#1e1e1e" stroke-width="1.1" />
<rect x="365.46" y="94.5" width="6.4" height="2.8" fill="#777777" stroke="#1e1e1e" stroke-width="1.0" />
<line x1="365.46" y1="96" x2="371.86" y2="96" stroke="#1e1e1e" stroke-width="1.0" />
<circle cx="368.66" cy="78.2" r="1.35" fill="#111111"/>
<circle cx="368.66" cy="79.7" r="1.35" fill="#111111"/>
<circle cx="368.66" cy="81.2" r="1.35" fill="#111111"/>
<circle cx="368.66" cy="82.7" r="1.35" fill="#111111"/>
<circle cx="368.66" cy="84.2" r="1.35" fill="#111111"/>
<circle cx="368.66" cy="85.7" r="1.35" fill="#111111"/>
<circle cx="368.66" cy="87.2" r="1.35" fill="#111111"/>
<circle cx="368.66" cy="88.7" r="1.35" fill="#111111"/>
<circle cx="368.66" cy="90.2" r="1.35" fill="#111111"/>
<circle cx="368.66" cy="91.7" r="1.35" fill="#111111"/>
<text transform="translate(365.86 106.9) rotate(90)" font-size="6.1" fill="#505050" stroke="#505050" text-anchor="start" font-weight="normal" >g__Pseudoxanthomonas</text>
<text transform="translate(363.81 27.5) scale(0.856 1)" font-size="13.768115942028986" fill="#111" stroke="#111" text-anchor="start" font-weight="bold" >A</text>
<text transform="translate(19.14 323.4) scale(0.87 1)" font-size="6.1" fill="#555" stroke="#555" text-anchor="start" font-weight="normal" >0</text>
<line x1="23" y1="302.4" x2="152" y2="302.4" stroke="#efefef" stroke-width="0.7" />
<text transform="translate(16.19 304.5) scale(0.87 1)" font-size="6.1" fill="#555" stroke="#555" text-anchor="start" font-weight="normal" >10</text>
<line x1="23" y1="283.5" x2="152" y2="283.5" stroke="#efefef" stroke-width="0.7" />
<text transform="translate(16.19 285.6) scale(0.87 1)" font-size="6.1" fill="#555" stroke="#555" text-anchor="start" font-weight="normal" >20</text>
<line x1="23" y1="264.6" x2="152" y2="264.6" stroke="#efefef" stroke-width="0.7" />
<text transform="translate(16.19 266.7) scale(0.87 1)" font-size="6.1" fill="#555" stroke="#555" text-anchor="start" font-weight="normal" >30</text>
<line x1="23" y1="245.7" x2="152" y2="245.7" stroke="#efefef" stroke-width="0.7" />
<text transform="translate(16.19 247.8) scale(0.87 1)" font-size="6.1" fill="#555" stroke="#555" text-anchor="start" font-weight="normal" >40</text>
<line x1="23" y1="226.8" x2="152" y2="226.8" stroke="#efefef" stroke-width="0.7" />
<text transform="translate(16.19 228.9) scale(0.87 1)" font-size="6.1" fill="#555" stroke="#555" text-anchor="start" font-weight="normal" >50</text>
<line x1="23" y1="207.9" x2="152" y2="207.9" stroke="#efefef" stroke-width="0.7" />
<text transform="translate(16.19 210) scale(0.87 1)" font-size="6.1" fill="#555" stroke="#555" text-anchor="start" font-weight="normal" >60</text>
<line x1="23" y1="189" x2="152" y2="189" stroke="#efefef" stroke-width="0.7" />
<text transform="translate(16.19 191.1) scale(0.87 1)" font-size="6.1" fill="#555" stroke="#555" text-anchor="start" font-weight="normal" >70</text>
<rect x="24.9" y="238.18" width="10.25" height="83.12" fill="#18798a" />
<rect x="35.15" y="192.87" width="10.25" height="128.43" fill="#9c9c9c" />
<text transform="translate(33.95 327.4) rotate(30)" font-size="5.1" fill="#4a4a4a" stroke="#4a4a4a" text-anchor="start" font-weight="normal" >p__Proteobacteria</text>
<rect x="50.95" y="282.91" width="10.25" height="38.39" fill="#18798a" />
<rect x="61.2" y="292.87" width="10.25" height="28.43" fill="#9c9c9c" />
<text transform="translate(60 327.4) rotate(30)" font-size="5.1" fill="#4a4a4a" stroke="#4a4a4a" text-anchor="start" font-weight="normal" >p__Actinobacteriota</text>
<rect x="77" y="278.81" width="10.25" height="42.49" fill="#18798a" />
<rect x="87.25" y="314.51" width="10.25" height="6.79" fill="#9c9c9c" />
<text transform="translate(86.05 327.4) rotate(30)" font-size="5.1" fill="#4a4a4a" stroke="#4a4a4a" text-anchor="start" font-weight="normal" >p__Firmicutes</text>
<rect x="103.05" y="311.17" width="10.25" height="10.13" fill="#18798a" />
<rect x="113.3" y="310.51" width="10.25" height="10.79" fill="#9c9c9c" />
<text transform="translate(112.1 327.4) rotate(30)" font-size="5.1" fill="#4a4a4a" stroke="#4a4a4a" text-anchor="start" font-weight="normal" >p__Bacteroidota</text>
<rect x="129.1" y="313.7" width="10.25" height="7.6" fill="#18798a" />
<rect x="139.35" y="320.01" width="10.25" height="1.29" fill="#9c9c9c" />
<text transform="translate(138.15 327.4) rotate(30)" font-size="5.1" fill="#4a4a4a" stroke="#4a4a4a" text-anchor="start" font-weight="normal" >p__Cyanobacteria</text>
<line x1="22.5" y1="321.3" x2="152" y2="321.3" stroke="#8f8f8f" stroke-width="0.8" />
<text transform="translate(28.6 240.18) rotate(90)" font-size="4.8" fill="#fff" stroke="#fff" text-anchor="start" font-weight="bold" >43.98</text>
<text transform="translate(38.8 194.07) rotate(90)" font-size="4.8" fill="#555" stroke="#555" text-anchor="start" font-weight="normal" >67.95</text>
<text transform="translate(54.6 284.91) rotate(90)" font-size="4.8" fill="#fff" stroke="#fff" text-anchor="start" font-weight="bold" >20.31</text>
<text transform="translate(64.8 294.07) rotate(90)" font-size="4.8" fill="#555" stroke="#555" text-anchor="start" font-weight="normal" >15.04</text>
<text transform="translate(80.6 280.81) rotate(90)" font-size="4.8" fill="#fff" stroke="#fff" text-anchor="start" font-weight="bold" >22.48</text>
<text transform="translate(87.4 313.45) scale(0.97 1)" font-size="5.2" fill="#444" stroke="#444" text-anchor="start" font-weight="normal" >3.59</text>
<text transform="translate(103.96 317.25) scale(0.917 1)" font-size="4.929577464788733" fill="#fff" stroke="#fff" text-anchor="start" font-weight="bold" >5.36</text>
<text transform="translate(116.8 311.11) rotate(90)" font-size="3.6" fill="#666" stroke="#666" text-anchor="start" font-weight="normal" >5.71</text>
<text transform="translate(130.54 318.76) scale(0.933 1)" font-size="4.084507042253569" fill="#fff" stroke="#fff" text-anchor="start" font-weight="bold" >4.02</text>
<text transform="translate(139.89 318.74) scale(0.9 1)" font-size="5.8" fill="#444" stroke="#444" text-anchor="start" font-weight="normal" >0.68</text>
<rect x="99.9" y="202.9" width="5.1" height="4.9" fill="#18798a" />
<text transform="translate(110.18 207.74) scale(0.94 1)" font-size="6.2" fill="#333" stroke="#333" text-anchor="start" font-weight="normal" >TCH</text>
<rect x="99.9" y="210.9" width="5.1" height="4.8" fill="#9c9c9c" />
<text transform="translate(109.9 215.7) scale(0.94 1)" font-size="6.2" fill="#333" stroke="#333" text-anchor="start" font-weight="normal" >AH</text>
<text transform="translate(143.55 202.5) scale(0.833 1)" font-size="13.768115942028986" fill="#111" stroke="#111" text-anchor="start" font-weight="bold" >B</text>
<text transform="translate(18.34 515.7) scale(0.87 1)" font-size="6.1" fill="#555" stroke="#555" text-anchor="start" font-weight="normal" >0</text>
<line x1="23" y1="492.6" x2="205" y2="492.6" stroke="#efefef" stroke-width="0.7" />
<text transform="translate(15.39 494.7) scale(0.87 1)" font-size="6.1" fill="#555" stroke="#555" text-anchor="start" font-weight="normal" >10</text>
<line x1="23" y1="471.6" x2="205" y2="471.6" stroke="#efefef" stroke-width="0.7" />
<text transform="translate(15.39 473.7) scale(0.87 1)" font-size="6.1" fill="#555" stroke="#555" text-anchor="start" font-weight="normal" >20</text>
<line x1="23" y1="450.6" x2="205" y2="450.6" stroke="#efefef" stroke-width="0.7" />
<text transform="translate(15.39 452.7) scale(0.87 1)" font-size="6.1" fill="#555" stroke="#555" text-anchor="start" font-weight="normal" >30</text>
<line x1="23" y1="429.6" x2="205" y2="429.6" stroke="#efefef" stroke-width="0.7" />
<text transform="translate(15.39 431.7) scale(0.87 1)" font-size="6.1" fill="#555" stroke="#555" text-anchor="start" font-weight="normal" >40</text>
<line x1="23" y1="408.6" x2="205" y2="408.6" stroke="#efefef" stroke-width="0.7" />
<text transform="translate(15.39 410.7) scale(0.87 1)" font-size="6.1" fill="#555" stroke="#555" text-anchor="start" font-weight="normal" >50</text>
<line x1="23" y1="387.6" x2="184" y2="387.6" stroke="#efefef" stroke-width="0.7" />
<text transform="translate(15.39 389.7) scale(0.87 1)" font-size="6.1" fill="#555" stroke="#555" text-anchor="start" font-weight="normal" >60</text>
<line x1="23" y1="366.6" x2="184" y2="366.6" stroke="#efefef" stroke-width="0.7" />
<text transform="translate(15.39 368.7) scale(0.87 1)" font-size="6.1" fill="#555" stroke="#555" text-anchor="start" font-weight="normal" >70</text>
<rect x="26" y="439.76" width="8.1" height="73.84" fill="#1c7a8f" />
<rect x="34.1" y="410.99" width="8.1" height="102.61" fill="#1a9e78" />
<rect x="42.2" y="370.9" width="8.1" height="142.7" fill="#a0a0a0" />
<rect x="50.3" y="400.49" width="8.1" height="113.11" fill="#1c1c1c" />
<text transform="translate(40.6 520.8) rotate(30)" font-size="5.5" fill="#4a4a4a" stroke="#4a4a4a" text-anchor="start" font-weight="normal" >p__Proteobacteria</text>
<rect x="67.45" y="457.91" width="8.1" height="55.69" fill="#1c7a8f" />
<rect x="75.55" y="474.35" width="8.1" height="39.25" fill="#1a9e78" />
<rect x="83.65" y="482.02" width="8.1" height="31.58" fill="#a0a0a0" />
<rect x="91.75" y="495.83" width="8.1" height="17.77" fill="#1c1c1c" />
<text transform="translate(82.05 520.8) rotate(30)" font-size="5.5" fill="#4a4a4a" stroke="#4a4a4a" text-anchor="start" font-weight="normal" >p__Actinobacteriota</text>
<rect x="108.9" y="458.35" width="8.1" height="55.25" fill="#1c7a8f" />
<rect x="117" y="480.44" width="8.1" height="33.16" fill="#1a9e78" />
<rect x="125.1" y="506.06" width="8.1" height="7.54" fill="#a0a0a0" />
<rect x="133.2" y="448.33" width="8.1" height="65.27" fill="#1c1c1c" />
<text transform="translate(123.5 520.8) rotate(30)" font-size="5.5" fill="#4a4a4a" stroke="#4a4a4a" text-anchor="start" font-weight="normal" >p__Firmicutes</text>
<rect x="150.35" y="501.23" width="8.1" height="12.37" fill="#1c7a8f" />
<rect x="158.45" y="502.2" width="8.1" height="11.4" fill="#1a9e78" />
<rect x="166.55" y="501.61" width="8.1" height="11.99" fill="#a0a0a0" />
<rect x="174.65" y="505.45" width="8.1" height="8.15" fill="#1c1c1c" />
<text transform="translate(164.95 520.8) rotate(30)" font-size="5.5" fill="#4a4a4a" stroke="#4a4a4a" text-anchor="start" font-weight="normal" >p__Bacteroidota</text>
<rect x="191.8" y="505.2" width="8.1" height="8.4" fill="#1c7a8f" />
<rect x="199.9" y="500.83" width="8.1" height="12.77" fill="#1a9e78" />
<rect x="208" y="511.75" width="8.1" height="1.85" fill="#a0a0a0" />
<rect x="216.1" y="513.41" width="8.1" height="0.19" fill="#1c1c1c" />
<text transform="translate(206.4 520.8) rotate(30)" font-size="5.5" fill="#4a4a4a" stroke="#4a4a4a" text-anchor="start" font-weight="normal" >p__Cyanobacteria</text>
<line x1="21.6" y1="513.6" x2="229" y2="513.6" stroke="#8f8f8f" stroke-width="0.8" />
<text transform="translate(28.2 441.76) rotate(90)" font-size="4.6" fill="#fff" stroke="#fff" text-anchor="start" font-weight="bold" >35.16</text>
<text transform="translate(36.4 412.99) rotate(90)" font-size="4.6" fill="#fff" stroke="#fff" text-anchor="start" font-weight="bold" >48.86</text>
<text transform="translate(44.6 372.1) rotate(90)" font-size="4.6" fill="#666" stroke="#666" text-anchor="start" font-weight="normal" >67.95</text>
<text transform="translate(52.8 402.49) rotate(90)" font-size="4.6" fill="#fff" stroke="#fff" text-anchor="start" font-weight="bold" >53.86</text>
<text transform="translate(69.85 459.91) rotate(90)" font-size="4.6" fill="#fff" stroke="#fff" text-anchor="start" font-weight="bold" >26.52</text>
<text transform="translate(78.05 476.35) rotate(90)" font-size="4.6" fill="#fff" stroke="#fff" text-anchor="start" font-weight="bold" >18.69</text>
<text transform="translate(86.25 483.22) rotate(90)" font-size="4.6" fill="#666" stroke="#666" text-anchor="start" font-weight="normal" >15.04</text>
<text transform="translate(94.45 497.03) rotate(90)" font-size="4.6" fill="#fff" stroke="#fff" text-anchor="start" font-weight="bold" >8.46</text>
<text transform="translate(111.3 460.35) rotate(90)" font-size="4.6" fill="#fff" stroke="#fff" text-anchor="start" font-weight="bold" >26.31</text>
<text transform="translate(119.5 482.44) rotate(90)" font-size="4.6" fill="#fff" stroke="#fff" text-anchor="start" font-weight="bold" >15.79</text>
<text transform="translate(135.9 449.53) rotate(90)" font-size="4.6" fill="#fff" stroke="#fff" text-anchor="start" font-weight="bold" >31.08</text>
<text transform="translate(152.85 502.43) rotate(90)" font-size="3.4" fill="#fff" stroke="#fff" text-anchor="start" font-weight="bold" >5.89</text>
<text transform="translate(160.95 503.4) rotate(90)" font-size="3.4" fill="#fff" stroke="#fff" text-anchor="start" font-weight="bold" >5.43</text>
<text transform="translate(169.05 502.81) rotate(90)" font-size="3.4" fill="#666" stroke="#666" text-anchor="start" font-weight="bold" >5.71</text>
<text transform="translate(176.53 509.67) scale(0.783 1)" font-size="3.380281690140813" fill="#fff" stroke="#fff" text-anchor="start" font-weight="bold" >3.88</text>
<text transform="translate(194.3 506.4) rotate(90)" font-size="3.4" fill="#fff" stroke="#fff" text-anchor="start" font-weight="bold" >4.0</text>
<text transform="translate(202.4 502.03) rotate(90)" font-size="3.4" fill="#fff" stroke="#fff" text-anchor="start" font-weight="bold" >6.08</text>
<text x="208.6" y="510.15" font-size="4.4" fill="#444" stroke="#444" text-anchor="start" font-weight="normal" >0.88</text>
<text x="216.6" y="512.41" font-size="4.4" fill="#444" stroke="#444" text-anchor="start" font-weight="normal" >0.09</text>
<rect x="100.8" y="385.1" width="5.7" height="5.4" fill="#1c7a8f" />
<text transform="translate(112.74 389.8) scale(0.93 1)" font-size="6.1" fill="#444" stroke="#444" text-anchor="start" font-weight="normal" >Surgery 1</text>
<rect x="100.8" y="393.9" width="5.7" height="5" fill="#1a9e78" />
<text transform="translate(112.74 398.9) scale(0.93 1)" font-size="6.1" fill="#444" stroke="#444" text-anchor="start" font-weight="normal" >Surgery 2</text>
<rect x="100.8" y="402.7" width="5.7" height="5.4" fill="#a0a0a0" />
<text transform="translate(112.72 407.7) scale(0.93 1)" font-size="6.1" fill="#444" stroke="#444" text-anchor="start" font-weight="normal" >Covid Ward</text>
<rect x="100.8" y="411.4" width="5.7" height="5.4" fill="#1c1c1c" />
<text transform="translate(112.55 416.5) scale(0.93 1)" font-size="6.1" fill="#444" stroke="#444" text-anchor="start" font-weight="normal" >Lab</text>
<text transform="translate(168.58 380.86) scale(0.771 1)" font-size="13.6619718309859" fill="#111" stroke="#111" text-anchor="start" font-weight="bold" >C</text>
<text x="233.5" y="347" font-size="4.4" fill="#555" stroke="#555" text-anchor="middle" font-weight="normal" >0</text>
<line x1="280.6" y1="229.5" x2="280.6" y2="341" stroke="#ececec" stroke-width="0.6" />
<text x="280.6" y="347" font-size="4.4" fill="#555" stroke="#555" text-anchor="middle" font-weight="normal" >200</text>
<line x1="327.7" y1="229.5" x2="327.7" y2="341" stroke="#ececec" stroke-width="0.6" />
<text x="327.7" y="347" font-size="4.4" fill="#555" stroke="#555" text-anchor="middle" font-weight="normal" >400</text>
<line x1="233.5" y1="229.5" x2="233.5" y2="341" stroke="#aaa" stroke-width="0.8" />
<text x="299" y="361.3" font-size="5.2" fill="#555" stroke="#555" text-anchor="middle" font-weight="normal" >richness</text>
<text transform="translate(221.12 243.1) scale(0.93 1)" font-size="4.75" fill="#4a4a4a" stroke="#4a4a4a" text-anchor="start" font-weight="normal" >Lab</text>
<line x1="248" y1="240.7" x2="250.3" y2="240.7" stroke="#4a4a4a" stroke-width="0.8" />
<line x1="264.9" y1="240.7" x2="264.9" y2="240.7" stroke="#4a4a4a" stroke-width="0.8" />
<line x1="248" y1="237.7" x2="248" y2="243.7" stroke="#4a4a4a" stroke-width="0.8" />
<line x1="264.9" y1="237.7" x2="264.9" y2="243.7" stroke="#4a4a4a" stroke-width="0.8" />
<rect x="250.3" y="233.7" width="14.6" height="14" fill="#8c8c8c" stroke="#4a4a4a" stroke-width="0.8" />
<line x1="254.6" y1="233.7" x2="254.6" y2="247.7" stroke="#4a4a4a" stroke-width="0.8" />
<line x1="251.5" y1="233.7" x2="251.5" y2="247.7" stroke="#4a4a4a" stroke-width="0.6" stroke-dasharray="0.8 0.8"/>
<circle cx="251.8" cy="251.12" r="0.75" fill="#111"/>
<circle cx="256.28" cy="250.93" r="0.75" fill="#111"/>
<circle cx="252.32" cy="251.17" r="0.75" fill="#111"/>
<circle cx="249.25" cy="251.02" r="0.75" fill="#111"/>
<circle cx="253.48" cy="251.59" r="0.75" fill="#111"/>
<circle cx="248.39" cy="250.61" r="0.75" fill="#111"/>
<circle cx="248.36" cy="251.62" r="0.75" fill="#111"/>
<circle cx="254.09" cy="250.08" r="0.75" fill="#111"/>
<circle cx="256.83" cy="251.93" r="0.75" fill="#111"/>
<circle cx="253.71" cy="251.23" r="0.75" fill="#111"/>
<circle cx="249" cy="250.03" r="0.75" fill="#111"/>
<circle cx="252.52" cy="250.12" r="0.75" fill="#111"/>
<circle cx="249.31" cy="250.48" r="0.75" fill="#111"/>
<circle cx="247.79" cy="250.93" r="0.75" fill="#111"/>
<circle cx="288.2" cy="250.95" r="0.75" fill="#111"/>
<circle cx="310.7" cy="251.27" r="0.75" fill="#111"/>
<text transform="translate(205.68 271.5) scale(0.93 1)" font-size="4.75" fill="#4a4a4a" stroke="#4a4a4a" text-anchor="start" font-weight="normal" >Covid Ward</text>
<line x1="239.9" y1="269.4" x2="269.4" y2="269.4" stroke="#a0a0a0" stroke-width="0.8" />
<line x1="294.9" y1="269.4" x2="330.5" y2="269.4" stroke="#a0a0a0" stroke-width="0.8" />
<line x1="239.9" y1="266.4" x2="239.9" y2="272.4" stroke="#a0a0a0" stroke-width="0.8" />
<line x1="330.5" y1="266.4" x2="330.5" y2="272.4" stroke="#a0a0a0" stroke-width="0.8" />
<rect x="269.4" y="262.5" width="25.5" height="13.7" fill="#d0d0d0" stroke="#a0a0a0" stroke-width="0.8" />
<line x1="280.2" y1="262.5" x2="280.2" y2="276.2" stroke="#a0a0a0" stroke-width="0.8" />
<line x1="282.9" y1="262.5" x2="282.9" y2="276.2" stroke="#a0a0a0" stroke-width="0.6" stroke-dasharray="0.8 0.8"/>
<circle cx="253.34" cy="279.98" r="0.95" fill="#858585"/>
<circle cx="253" cy="280.02" r="0.95" fill="#858585"/>
<circle cx="252.23" cy="279.26" r="0.95" fill="#858585"/>
<circle cx="261.96" cy="280.69" r="0.95" fill="#858585"/>
<circle cx="259.12" cy="280.12" r="0.95" fill="#858585"/>
<circle cx="249.67" cy="279.16" r="0.95" fill="#858585"/>
<circle cx="249.2" cy="278.84" r="0.95" fill="#858585"/>
<circle cx="257.79" cy="279.5" r="0.95" fill="#858585"/>
<circle cx="259.24" cy="279.47" r="0.95" fill="#858585"/>
<circle cx="261.24" cy="280.39" r="0.95" fill="#858585"/>
<circle cx="244.01" cy="279.12" r="0.95" fill="#858585"/>
<circle cx="260.38" cy="279.64" r="0.95" fill="#858585"/>
<circle cx="261.65" cy="279.49" r="0.95" fill="#858585"/>
<circle cx="245.31" cy="279.96" r="0.95" fill="#858585"/>
<circle cx="258.01" cy="279.24" r="0.95" fill="#858585"/>
<circle cx="245.57" cy="279.37" r="0.95" fill="#858585"/>
<circle cx="261.35" cy="280.22" r="0.95" fill="#858585"/>
<circle cx="246.12" cy="279.19" r="0.95" fill="#858585"/>
<circle cx="245.82" cy="278.82" r="0.95" fill="#858585"/>
<circle cx="258.35" cy="279.06" r="0.95" fill="#858585"/>
<circle cx="254.07" cy="279.59" r="0.95" fill="#858585"/>
<circle cx="247.43" cy="280.16" r="0.95" fill="#858585"/>
<circle cx="246.36" cy="279.99" r="0.95" fill="#858585"/>
<circle cx="246.1" cy="279.54" r="0.95" fill="#858585"/>
<circle cx="247.83" cy="279.24" r="0.95" fill="#858585"/>
<circle cx="261.48" cy="280.31" r="0.95" fill="#858585"/>
<circle cx="249.47" cy="280.47" r="0.95" fill="#858585"/>
<circle cx="247.79" cy="279.49" r="0.95" fill="#858585"/>
<circle cx="259.38" cy="279.98" r="0.95" fill="#858585"/>
<circle cx="245.81" cy="280.68" r="0.95" fill="#858585"/>
<circle cx="270.32" cy="279.22" r="0.95" fill="#858585"/>
<circle cx="292.13" cy="279.36" r="0.95" fill="#858585"/>
<circle cx="273.56" cy="278.85" r="0.95" fill="#858585"/>
<circle cx="265.51" cy="279.87" r="0.95" fill="#858585"/>
<circle cx="271.48" cy="279.9" r="0.95" fill="#858585"/>
<circle cx="276.5" cy="279.61" r="0.95" fill="#858585"/>
<circle cx="299.41" cy="279.67" r="0.95" fill="#858585"/>
<circle cx="284.41" cy="280.43" r="0.95" fill="#858585"/>
<circle cx="269.13" cy="279.01" r="0.95" fill="#858585"/>
<circle cx="297.43" cy="280.34" r="0.95" fill="#858585"/>
<circle cx="271.73" cy="279.08" r="0.95" fill="#858585"/>
<circle cx="290.84" cy="280.58" r="0.95" fill="#858585"/>
<circle cx="269.67" cy="280.6" r="0.95" fill="#858585"/>
<circle cx="296.41" cy="279.91" r="0.95" fill="#858585"/>
<circle cx="278.44" cy="278.91" r="0.95" fill="#858585"/>
<circle cx="263.51" cy="280.63" r="0.95" fill="#858585"/>
<circle cx="271.3" cy="280.11" r="0.95" fill="#858585"/>
<circle cx="272.02" cy="280.35" r="0.95" fill="#858585"/>
<circle cx="285.26" cy="279.29" r="0.95" fill="#858585"/>
<circle cx="268.84" cy="280.14" r="0.95" fill="#858585"/>
<circle cx="264.68" cy="279.16" r="0.95" fill="#858585"/>
<circle cx="283.82" cy="280.4" r="0.95" fill="#858585"/>
<circle cx="285.96" cy="279.26" r="0.95" fill="#858585"/>
<circle cx="297.78" cy="279.11" r="0.95" fill="#858585"/>
<circle cx="262.65" cy="279.24" r="0.95" fill="#858585"/>
<circle cx="279.38" cy="278.82" r="0.95" fill="#858585"/>
<circle cx="268.87" cy="279.44" r="0.95" fill="#858585"/>
<circle cx="284.31" cy="278.96" r="0.95" fill="#858585"/>
<circle cx="276.12" cy="280.48" r="0.95" fill="#858585"/>
<circle cx="300.24" cy="280.01" r="0.95" fill="#858585"/>
<circle cx="288.96" cy="279.87" r="0.95" fill="#858585"/>
<circle cx="267.47" cy="278.77" r="0.95" fill="#858585"/>
<circle cx="262.7" cy="280.52" r="0.95" fill="#858585"/>
<circle cx="289.34" cy="280.63" r="0.95" fill="#858585"/>
<circle cx="262.83" cy="279.97" r="0.95" fill="#858585"/>
<circle cx="280.81" cy="280.16" r="0.95" fill="#858585"/>
<circle cx="274.44" cy="280.7" r="0.95" fill="#858585"/>
<circle cx="264.94" cy="279.79" r="0.95" fill="#858585"/>
<circle cx="290.74" cy="280.5" r="0.95" fill="#858585"/>
<circle cx="290.75" cy="280.11" r="0.95" fill="#858585"/>
<circle cx="292.94" cy="280.53" r="0.95" fill="#858585"/>
<circle cx="275.72" cy="280.07" r="0.95" fill="#858585"/>
<circle cx="297.13" cy="280.44" r="0.95" fill="#858585"/>
<circle cx="278.27" cy="280.28" r="0.95" fill="#858585"/>
<circle cx="295.68" cy="279.85" r="0.95" fill="#858585"/>
<circle cx="286.37" cy="279.46" r="0.95" fill="#858585"/>
<circle cx="284.72" cy="279.92" r="0.95" fill="#858585"/>
<circle cx="265.13" cy="279.98" r="0.95" fill="#858585"/>
<circle cx="300.74" cy="280.46" r="0.95" fill="#858585"/>
<circle cx="290.4" cy="279.48" r="0.95" fill="#858585"/>
<circle cx="290.67" cy="279.86" r="0.95" fill="#858585"/>
<circle cx="279.18" cy="280.38" r="0.95" fill="#858585"/>
<circle cx="265.27" cy="280.2" r="0.95" fill="#858585"/>
<circle cx="263.16" cy="279.9" r="0.95" fill="#858585"/>
<circle cx="280.76" cy="279.16" r="0.95" fill="#858585"/>
<circle cx="289.24" cy="279.69" r="0.95" fill="#858585"/>
<circle cx="285.97" cy="280.54" r="0.95" fill="#858585"/>
<circle cx="271.98" cy="278.72" r="0.95" fill="#858585"/>
<circle cx="273.74" cy="280.06" r="0.95" fill="#858585"/>
<circle cx="269.9" cy="279.04" r="0.95" fill="#858585"/>
<circle cx="297.32" cy="280.02" r="0.95" fill="#858585"/>
<circle cx="279.24" cy="280.48" r="0.95" fill="#858585"/>
<circle cx="274.75" cy="280.03" r="0.95" fill="#858585"/>
<circle cx="269.74" cy="279.56" r="0.95" fill="#858585"/>
<circle cx="293.43" cy="280.53" r="0.95" fill="#858585"/>
<circle cx="296.33" cy="279.47" r="0.95" fill="#858585"/>
<circle cx="284.74" cy="279.33" r="0.95" fill="#858585"/>
<circle cx="267.31" cy="279.69" r="0.95" fill="#858585"/>
<circle cx="294.65" cy="280.4" r="0.95" fill="#858585"/>
<circle cx="289.74" cy="280.6" r="0.95" fill="#858585"/>
<circle cx="272.8" cy="279.04" r="0.95" fill="#858585"/>
<circle cx="279.58" cy="279.25" r="0.95" fill="#858585"/>
<circle cx="270.35" cy="279.53" r="0.95" fill="#858585"/>
<circle cx="286.4" cy="279.69" r="0.95" fill="#858585"/>
<circle cx="274.3" cy="280.38" r="0.95" fill="#858585"/>
<circle cx="300.3" cy="279.6" r="0.95" fill="#858585"/>
<circle cx="264.91" cy="278.76" r="0.95" fill="#858585"/>
<circle cx="296.04" cy="278.78" r="0.95" fill="#858585"/>
<circle cx="289.64" cy="279.84" r="0.95" fill="#858585"/>
<circle cx="274.05" cy="280.28" r="0.95" fill="#858585"/>
<circle cx="262.75" cy="278.97" r="0.95" fill="#858585"/>
<circle cx="279.74" cy="278.75" r="0.95" fill="#858585"/>
<circle cx="294.36" cy="279.17" r="0.95" fill="#858585"/>
<circle cx="267.49" cy="278.79" r="0.95" fill="#858585"/>
<circle cx="286.54" cy="279.59" r="0.95" fill="#858585"/>
<circle cx="286.57" cy="280.01" r="0.95" fill="#858585"/>
<circle cx="293.49" cy="280.62" r="0.95" fill="#858585"/>
<circle cx="288.7" cy="279.1" r="0.95" fill="#858585"/>
<circle cx="280.53" cy="279.06" r="0.95" fill="#858585"/>
<circle cx="262.42" cy="279.64" r="0.95" fill="#858585"/>
<circle cx="289.85" cy="279.06" r="0.95" fill="#858585"/>
<circle cx="272.62" cy="279.39" r="0.95" fill="#858585"/>
<circle cx="289.2" cy="279.74" r="0.95" fill="#858585"/>
<circle cx="285.96" cy="280.21" r="0.95" fill="#858585"/>
<circle cx="277.35" cy="280.28" r="0.95" fill="#858585"/>
<circle cx="297.34" cy="278.87" r="0.95" fill="#858585"/>
<circle cx="298.37" cy="280.14" r="0.95" fill="#858585"/>
<circle cx="267.07" cy="279.61" r="0.95" fill="#858585"/>
<circle cx="286.4" cy="280.52" r="0.95" fill="#858585"/>
<circle cx="276.7" cy="279.84" r="0.95" fill="#858585"/>
<circle cx="296.29" cy="280.29" r="0.95" fill="#858585"/>
<circle cx="298.83" cy="279.63" r="0.95" fill="#858585"/>
<circle cx="287.4" cy="279.11" r="0.95" fill="#858585"/>
<circle cx="290.16" cy="280.34" r="0.95" fill="#858585"/>
<circle cx="287.02" cy="280.14" r="0.95" fill="#858585"/>
<circle cx="270.32" cy="280.5" r="0.95" fill="#858585"/>
<circle cx="300.24" cy="280.65" r="0.95" fill="#858585"/>
<circle cx="282.94" cy="280.28" r="0.95" fill="#858585"/>
<circle cx="274.5" cy="280.52" r="0.95" fill="#858585"/>
<circle cx="295.38" cy="279.4" r="0.95" fill="#858585"/>
<circle cx="265.23" cy="279.58" r="0.95" fill="#858585"/>
<circle cx="283.46" cy="280.24" r="0.95" fill="#858585"/>
<circle cx="281.01" cy="278.76" r="0.95" fill="#858585"/>
<circle cx="293.56" cy="278.83" r="0.95" fill="#858585"/>
<circle cx="293.19" cy="279.05" r="0.95" fill="#858585"/>
<circle cx="275.07" cy="280.28" r="0.95" fill="#858585"/>
<circle cx="267.48" cy="279" r="0.95" fill="#858585"/>
<circle cx="282.14" cy="280.15" r="0.95" fill="#858585"/>
<circle cx="294.76" cy="280.08" r="0.95" fill="#858585"/>
<circle cx="298.88" cy="279.69" r="0.95" fill="#858585"/>
<circle cx="299.02" cy="278.87" r="0.95" fill="#858585"/>
<circle cx="270.64" cy="279.75" r="0.95" fill="#858585"/>
<circle cx="273.32" cy="280.16" r="0.95" fill="#858585"/>
<circle cx="286.92" cy="279.75" r="0.95" fill="#858585"/>
<circle cx="294.9" cy="279.82" r="0.95" fill="#858585"/>
<circle cx="274.16" cy="279.46" r="0.95" fill="#858585"/>
<circle cx="294.97" cy="280.5" r="0.95" fill="#858585"/>
<circle cx="270.12" cy="280.4" r="0.95" fill="#858585"/>
<circle cx="299.77" cy="279.75" r="0.95" fill="#858585"/>
<circle cx="284.35" cy="279.1" r="0.95" fill="#858585"/>
<circle cx="282.9" cy="279.71" r="0.95" fill="#858585"/>
<circle cx="285.6" cy="278.76" r="0.95" fill="#858585"/>
<circle cx="299.81" cy="279.73" r="0.95" fill="#858585"/>
<circle cx="277.62" cy="280.3" r="0.95" fill="#858585"/>
<circle cx="283.95" cy="279.68" r="0.95" fill="#858585"/>
<circle cx="288.95" cy="278.83" r="0.95" fill="#858585"/>
<circle cx="283.01" cy="279.53" r="0.95" fill="#858585"/>
<circle cx="299.32" cy="280.55" r="0.95" fill="#858585"/>
<circle cx="272.5" cy="279.65" r="0.95" fill="#858585"/>
<circle cx="266.95" cy="279.57" r="0.95" fill="#858585"/>
<circle cx="293.81" cy="280.5" r="0.95" fill="#858585"/>
<circle cx="280.58" cy="279.33" r="0.95" fill="#858585"/>
<circle cx="269.47" cy="279.94" r="0.95" fill="#858585"/>
<circle cx="298.09" cy="278.96" r="0.95" fill="#858585"/>
<circle cx="292.39" cy="278.75" r="0.95" fill="#858585"/>
<circle cx="269.57" cy="279.15" r="0.95" fill="#858585"/>
<circle cx="288.79" cy="279.34" r="0.95" fill="#858585"/>
<circle cx="275.86" cy="279.94" r="0.95" fill="#858585"/>
<circle cx="266.09" cy="280.16" r="0.95" fill="#858585"/>
<circle cx="266.79" cy="279.72" r="0.95" fill="#858585"/>
<circle cx="271.77" cy="279.1" r="0.95" fill="#858585"/>
<circle cx="282.68" cy="279.57" r="0.95" fill="#858585"/>
<circle cx="276.65" cy="279.53" r="0.95" fill="#858585"/>
<circle cx="282.64" cy="279.02" r="0.95" fill="#858585"/>
<circle cx="269.97" cy="279.96" r="0.95" fill="#858585"/>
<circle cx="286.9" cy="279.76" r="0.95" fill="#858585"/>
<circle cx="295.2" cy="279.92" r="0.95" fill="#858585"/>
<circle cx="295.41" cy="279.17" r="0.95" fill="#858585"/>
<circle cx="290.89" cy="280.32" r="0.95" fill="#858585"/>
<circle cx="297.2" cy="279.33" r="0.95" fill="#858585"/>
<circle cx="274.28" cy="280.55" r="0.95" fill="#858585"/>
<circle cx="270.51" cy="280.7" r="0.95" fill="#858585"/>
<circle cx="296.61" cy="278.97" r="0.95" fill="#858585"/>
<circle cx="271.33" cy="280.15" r="0.95" fill="#858585"/>
<circle cx="272.12" cy="278.89" r="0.95" fill="#858585"/>
<circle cx="294.45" cy="279.54" r="0.95" fill="#858585"/>
<circle cx="292.81" cy="278.95" r="0.95" fill="#858585"/>
<circle cx="277.71" cy="280.07" r="0.95" fill="#858585"/>
<circle cx="262.69" cy="279.1" r="0.95" fill="#858585"/>
<circle cx="288.61" cy="280.52" r="0.95" fill="#858585"/>
<circle cx="299.77" cy="278.93" r="0.95" fill="#858585"/>
<circle cx="281.72" cy="280.22" r="0.95" fill="#858585"/>
<circle cx="281.61" cy="280.07" r="0.95" fill="#858585"/>
<circle cx="269.37" cy="278.84" r="0.95" fill="#858585"/>
<circle cx="266.14" cy="278.77" r="0.95" fill="#858585"/>
<circle cx="283.52" cy="279.73" r="0.95" fill="#858585"/>
<circle cx="284.18" cy="278.99" r="0.95" fill="#858585"/>
<circle cx="269.2" cy="279.11" r="0.95" fill="#858585"/>
<circle cx="294.77" cy="280.68" r="0.95" fill="#858585"/>
<circle cx="298.15" cy="278.89" r="0.95" fill="#858585"/>
<circle cx="264.42" cy="280.6" r="0.95" fill="#858585"/>
<circle cx="280.02" cy="280.23" r="0.95" fill="#858585"/>
<circle cx="274.75" cy="279.63" r="0.95" fill="#858585"/>
<circle cx="282.1" cy="279.56" r="0.95" fill="#858585"/>
<circle cx="285.44" cy="278.73" r="0.95" fill="#858585"/>
<circle cx="289.34" cy="280.39" r="0.95" fill="#858585"/>
<circle cx="269.07" cy="279.61" r="0.95" fill="#858585"/>
<circle cx="290.83" cy="279.51" r="0.95" fill="#858585"/>
<circle cx="269.61" cy="279.03" r="0.95" fill="#858585"/>
<circle cx="281.99" cy="278.73" r="0.95" fill="#858585"/>
<circle cx="296.83" cy="280.3" r="0.95" fill="#858585"/>
<circle cx="289.48" cy="280.42" r="0.95" fill="#858585"/>
<circle cx="286.55" cy="279.51" r="0.95" fill="#858585"/>
<circle cx="285.38" cy="279.71" r="0.95" fill="#858585"/>
<circle cx="300.32" cy="280.31" r="0.95" fill="#858585"/>
<circle cx="272.07" cy="280.52" r="0.95" fill="#858585"/>
<circle cx="291.03" cy="280.26" r="0.95" fill="#858585"/>
<circle cx="293.77" cy="279.51" r="0.95" fill="#858585"/>
<circle cx="296.97" cy="280.46" r="0.95" fill="#858585"/>
<circle cx="289.1" cy="280.23" r="0.95" fill="#858585"/>
<circle cx="291.84" cy="279.51" r="0.95" fill="#858585"/>
<circle cx="290.18" cy="278.84" r="0.95" fill="#858585"/>
<circle cx="275.33" cy="279.64" r="0.95" fill="#858585"/>
<circle cx="262.41" cy="279.41" r="0.95" fill="#858585"/>
<circle cx="286.91" cy="279.95" r="0.95" fill="#858585"/>
<circle cx="271.05" cy="280.59" r="0.95" fill="#858585"/>
<circle cx="287.98" cy="279.38" r="0.95" fill="#858585"/>
<circle cx="287.73" cy="279.84" r="0.95" fill="#858585"/>
<circle cx="282.79" cy="279.48" r="0.95" fill="#858585"/>
<circle cx="301" cy="279.98" r="0.95" fill="#858585"/>
<circle cx="322.04" cy="280.22" r="0.95" fill="#858585"/>
<circle cx="330.4" cy="278.75" r="0.95" fill="#858585"/>
<circle cx="319.46" cy="280.18" r="0.95" fill="#858585"/>
<circle cx="308.7" cy="279.5" r="0.95" fill="#858585"/>
<circle cx="302.51" cy="279.09" r="0.95" fill="#858585"/>
<circle cx="312.27" cy="278.9" r="0.95" fill="#858585"/>
<circle cx="308.53" cy="280.51" r="0.95" fill="#858585"/>
<circle cx="317.5" cy="279.72" r="0.95" fill="#858585"/>
<circle cx="330.01" cy="279.84" r="0.95" fill="#858585"/>
<circle cx="330.85" cy="279.98" r="0.95" fill="#858585"/>
<circle cx="325.29" cy="278.85" r="0.95" fill="#858585"/>
<circle cx="318.93" cy="280.22" r="0.95" fill="#858585"/>
<circle cx="302.35" cy="280.56" r="0.95" fill="#858585"/>
<circle cx="305.8" cy="279.64" r="0.95" fill="#858585"/>
<circle cx="306.07" cy="279.69" r="0.95" fill="#858585"/>
<circle cx="319.34" cy="278.82" r="0.95" fill="#858585"/>
<circle cx="329.36" cy="279.54" r="0.95" fill="#858585"/>
<circle cx="316.8" cy="279.9" r="0.95" fill="#858585"/>
<circle cx="311.97" cy="279.27" r="0.95" fill="#858585"/>
<circle cx="320.65" cy="279.82" r="0.95" fill="#858585"/>
<circle cx="309.51" cy="280.13" r="0.95" fill="#858585"/>
<circle cx="309.88" cy="278.73" r="0.95" fill="#858585"/>
<circle cx="239.6" cy="279.5" r="0.95" fill="#858585"/>
<circle cx="339" cy="279.33" r="0.95" fill="#858585"/>
<circle cx="341" cy="279.43" r="0.95" fill="#858585"/>
<circle cx="346" cy="279.9" r="0.95" fill="#858585"/>
<circle cx="362.1" cy="279.61" r="0.95" fill="#858585"/>
<text transform="translate(209.37 299.76) scale(0.93 1)" font-size="4.75" fill="#4a4a4a" stroke="#4a4a4a" text-anchor="start" font-weight="normal" >Surgery 2</text>
<line x1="236.4" y1="298.3" x2="246" y2="298.3" stroke="#2a9d7c" stroke-width="0.8" />
<line x1="274.6" y1="298.3" x2="295.2" y2="298.3" stroke="#2a9d7c" stroke-width="0.8" />
<line x1="236.4" y1="295.3" x2="236.4" y2="301.3" stroke="#2a9d7c" stroke-width="0.8" />
<line x1="295.2" y1="295.3" x2="295.2" y2="301.3" stroke="#2a9d7c" stroke-width="0.8" />
<rect x="246" y="290.9" width="28.6" height="14.4" fill="#8fd0bb" stroke="#2a9d7c" stroke-width="0.8" />
<line x1="253.1" y1="290.9" x2="253.1" y2="305.3" stroke="#2a9d7c" stroke-width="0.8" />
<line x1="264.5" y1="290.9" x2="264.5" y2="305.3" stroke="#2a9d7c" stroke-width="0.6" stroke-dasharray="0.8 0.8"/>
<circle cx="241.39" cy="309" r="1.05" fill="#13896a"/>
<circle cx="236.3" cy="309.48" r="1.05" fill="#13896a"/>
<circle cx="241.67" cy="307.65" r="1.05" fill="#13896a"/>
<circle cx="241.43" cy="308.36" r="1.05" fill="#13896a"/>
<circle cx="238.87" cy="309.45" r="1.05" fill="#13896a"/>
<circle cx="237.46" cy="308.55" r="1.05" fill="#13896a"/>
<circle cx="241.6" cy="308.85" r="1.05" fill="#13896a"/>
<circle cx="247.8" cy="308.68" r="1.05" fill="#13896a"/>
<circle cx="249.5" cy="308.47" r="1.05" fill="#13896a"/>
<circle cx="251" cy="308.88" r="1.05" fill="#13896a"/>
<circle cx="254.8" cy="308.75" r="1.05" fill="#13896a"/>
<circle cx="256.2" cy="308.58" r="1.05" fill="#13896a"/>
<circle cx="259.7" cy="308.19" r="1.05" fill="#13896a"/>
<circle cx="269.7" cy="308.6" r="1.05" fill="#13896a"/>
<circle cx="286.4" cy="308.46" r="1.05" fill="#13896a"/>
<circle cx="288.1" cy="308.26" r="1.05" fill="#13896a"/>
<circle cx="294.8" cy="308.14" r="1.05" fill="#13896a"/>
<circle cx="322.8" cy="308.52" r="1.05" fill="#13896a"/>
<circle cx="363" cy="308.2" r="1.05" fill="#13896a"/>
<text transform="translate(209.35 328.56) scale(0.93 1)" font-size="4.75" fill="#4a4a4a" stroke="#4a4a4a" text-anchor="start" font-weight="normal" >Surgery 1</text>
<line x1="235.5" y1="326.6" x2="239" y2="326.6" stroke="#2b8499" stroke-width="0.8" />
<line x1="260.9" y1="326.6" x2="279.4" y2="326.6" stroke="#2b8499" stroke-width="0.8" />
<line x1="235.5" y1="323.6" x2="235.5" y2="329.6" stroke="#2b8499" stroke-width="0.8" />
<line x1="279.4" y1="323.6" x2="279.4" y2="329.6" stroke="#2b8499" stroke-width="0.8" />
<rect x="239" y="319.8" width="21.9" height="14.4" fill="#92c4cf" stroke="#2b8499" stroke-width="0.8" />
<line x1="243.4" y1="319.8" x2="243.4" y2="334.2" stroke="#2b8499" stroke-width="0.8" />
<line x1="253.4" y1="319.8" x2="253.4" y2="334.2" stroke="#2b8499" stroke-width="0.6" stroke-dasharray="0.8 0.8"/>
<circle cx="239.87" cy="337.14" r="1.05" fill="#0f6a80"/>
<circle cx="240.01" cy="336.32" r="1.05" fill="#0f6a80"/>
<circle cx="241.4" cy="336.64" r="1.05" fill="#0f6a80"/>
<circle cx="243.56" cy="336.86" r="1.05" fill="#0f6a80"/>
<circle cx="245.97" cy="337.71" r="1.05" fill="#0f6a80"/>
<circle cx="243.08" cy="336.28" r="1.05" fill="#0f6a80"/>
<circle cx="236.25" cy="337.59" r="1.05" fill="#0f6a80"/>
<circle cx="243.63" cy="337.05" r="1.05" fill="#0f6a80"/>
<circle cx="238.95" cy="336.34" r="1.05" fill="#0f6a80"/>
<circle cx="242.54" cy="336.93" r="1.05" fill="#0f6a80"/>
<circle cx="241.51" cy="337.07" r="1.05" fill="#0f6a80"/>
<circle cx="243.29" cy="336.18" r="1.05" fill="#0f6a80"/>
<circle cx="250.4" cy="336.6" r="1.05" fill="#0f6a80"/>
<circle cx="252.7" cy="337.18" r="1.05" fill="#0f6a80"/>
<circle cx="259.7" cy="337.13" r="1.05" fill="#0f6a80"/>
<circle cx="264.5" cy="337.1" r="1.05" fill="#0f6a80"/>
<circle cx="275" cy="336.43" r="1.05" fill="#0f6a80"/>
<circle cx="279.4" cy="336.45" r="1.05" fill="#0f6a80"/>
<circle cx="293.4" cy="336.62" r="1.05" fill="#0f6a80"/>
<circle cx="311.3" cy="336.74" r="1.05" fill="#0f6a80"/>
<text transform="translate(358.95 235.3) scale(0.997 1)" font-size="13.043478260869566" fill="#111" stroke="#111" text-anchor="start" font-weight="bold" >D</text>
<text x="233.5" y="483" font-size="4.4" fill="#555" stroke="#555" text-anchor="middle" font-weight="normal" >0</text>
<line x1="290" y1="369.5" x2="290" y2="477" stroke="#ececec" stroke-width="0.6" />
<text x="290" y="483" font-size="4.4" fill="#555" stroke="#555" text-anchor="middle" font-weight="normal" >50</text>
<line x1="346.5" y1="369.5" x2="346.5" y2="477" stroke="#ececec" stroke-width="0.6" />
<text x="346.5" y="483" font-size="4.4" fill="#555" stroke="#555" text-anchor="middle" font-weight="normal" >100</text>
<line x1="233.5" y1="369.5" x2="233.5" y2="477" stroke="#aaa" stroke-width="0.8" />
<text x="295" y="495.9" font-size="4.8" fill="#555" stroke="#555" text-anchor="middle" font-weight="normal" >fisher_alpha</text>
<text transform="translate(221.12 384.7) scale(0.93 1)" font-size="4.75" fill="#4a4a4a" stroke="#4a4a4a" text-anchor="start" font-weight="normal" >Lab</text>
<line x1="243.4" y1="382" x2="246" y2="382" stroke="#4a4a4a" stroke-width="0.8" />
<line x1="259.7" y1="382" x2="259.7" y2="382" stroke="#4a4a4a" stroke-width="0.8" />
<line x1="243.4" y1="379" x2="243.4" y2="385" stroke="#4a4a4a" stroke-width="0.8" />
<line x1="259.7" y1="379" x2="259.7" y2="385" stroke="#4a4a4a" stroke-width="0.8" />
<rect x="246" y="375.4" width="13.7" height="13.3" fill="#8c8c8c" stroke="#4a4a4a" stroke-width="0.8" />
<line x1="247.4" y1="375.4" x2="247.4" y2="388.7" stroke="#4a4a4a" stroke-width="0.8" />
<line x1="257.4" y1="375.4" x2="257.4" y2="388.7" stroke="#4a4a4a" stroke-width="0.6" stroke-dasharray="0.8 0.8"/>
<circle cx="246.51" cy="390.1" r="0.75" fill="#111"/>
<circle cx="249.65" cy="389.94" r="0.75" fill="#111"/>
<circle cx="248.54" cy="390.53" r="0.75" fill="#111"/>
<circle cx="243.96" cy="390.81" r="0.75" fill="#111"/>
<circle cx="243.76" cy="390.67" r="0.75" fill="#111"/>
<circle cx="244.07" cy="389.98" r="0.75" fill="#111"/>
<circle cx="247.48" cy="391.45" r="0.75" fill="#111"/>
<circle cx="244.59" cy="390.25" r="0.75" fill="#111"/>
<circle cx="249.42" cy="391.7" r="0.75" fill="#111"/>
<circle cx="248.94" cy="390.59" r="0.75" fill="#111"/>
<circle cx="252.77" cy="389.89" r="0.75" fill="#111"/>
<circle cx="251.64" cy="390.38" r="0.75" fill="#111"/>
<circle cx="281.1" cy="390.52" r="0.75" fill="#111"/>
<circle cx="303.1" cy="390.49" r="0.75" fill="#111"/>
<text transform="translate(205.68 411.5) scale(0.93 1)" font-size="4.75" fill="#4a4a4a" stroke="#4a4a4a" text-anchor="start" font-weight="normal" >Covid Ward</text>
<line x1="239.4" y1="408.8" x2="267.1" y2="408.8" stroke="#a0a0a0" stroke-width="0.8" />
<line x1="290.4" y1="408.8" x2="322.5" y2="408.8" stroke="#a0a0a0" stroke-width="0.8" />
<line x1="239.4" y1="405.8" x2="239.4" y2="411.8" stroke="#a0a0a0" stroke-width="0.8" />
<line x1="322.5" y1="405.8" x2="322.5" y2="411.8" stroke="#a0a0a0" stroke-width="0.8" />
<rect x="267.1" y="402.5" width="23.3" height="14" fill="#d0d0d0" stroke="#a0a0a0" stroke-width="0.8" />
<line x1="277.6" y1="402.5" x2="277.6" y2="416.5" stroke="#a0a0a0" stroke-width="0.8" />
<line x1="279.2" y1="402.5" x2="279.2" y2="416.5" stroke="#a0a0a0" stroke-width="0.6" stroke-dasharray="0.8 0.8"/>
<circle cx="251.63" cy="419.83" r="0.95" fill="#858585"/>
<circle cx="249.71" cy="419.36" r="0.95" fill="#858585"/>
<circle cx="256.58" cy="418.94" r="0.95" fill="#858585"/>
<circle cx="255.22" cy="418.33" r="0.95" fill="#858585"/>
<circle cx="247.89" cy="418.61" r="0.95" fill="#858585"/>
<circle cx="257.21" cy="419.06" r="0.95" fill="#858585"/>
<circle cx="251.71" cy="419.37" r="0.95" fill="#858585"/>
<circle cx="253.8" cy="418.8" r="0.95" fill="#858585"/>
<circle cx="258.92" cy="419.6" r="0.95" fill="#858585"/>
<circle cx="250.66" cy="419.35" r="0.95" fill="#858585"/>
<circle cx="254.88" cy="419.95" r="0.95" fill="#858585"/>
<circle cx="257.94" cy="418.78" r="0.95" fill="#858585"/>
<circle cx="261.7" cy="418.44" r="0.95" fill="#858585"/>
<circle cx="253.27" cy="419.71" r="0.95" fill="#858585"/>
<circle cx="249.28" cy="419.18" r="0.95" fill="#858585"/>
<circle cx="247.59" cy="419.54" r="0.95" fill="#858585"/>
<circle cx="258.47" cy="419.35" r="0.95" fill="#858585"/>
<circle cx="260.13" cy="418.83" r="0.95" fill="#858585"/>
<circle cx="257.43" cy="419.39" r="0.95" fill="#858585"/>
<circle cx="255.7" cy="419.11" r="0.95" fill="#858585"/>
<circle cx="259.6" cy="420.09" r="0.95" fill="#858585"/>
<circle cx="254.11" cy="419.53" r="0.95" fill="#858585"/>
<circle cx="247.91" cy="419.6" r="0.95" fill="#858585"/>
<circle cx="256.71" cy="420.19" r="0.95" fill="#858585"/>
<circle cx="259.33" cy="418.77" r="0.95" fill="#858585"/>
<circle cx="252.79" cy="419.54" r="0.95" fill="#858585"/>
<circle cx="247.34" cy="419.12" r="0.95" fill="#858585"/>
<circle cx="249.52" cy="418.43" r="0.95" fill="#858585"/>
<circle cx="247.88" cy="419.74" r="0.95" fill="#858585"/>
<circle cx="248.94" cy="418.7" r="0.95" fill="#858585"/>
<circle cx="252.86" cy="419.94" r="0.95" fill="#858585"/>
<circle cx="248.21" cy="419.1" r="0.95" fill="#858585"/>
<circle cx="255.24" cy="419.97" r="0.95" fill="#858585"/>
<circle cx="259.29" cy="419.93" r="0.95" fill="#858585"/>
<circle cx="251.18" cy="419.03" r="0.95" fill="#858585"/>
<circle cx="277.79" cy="419.97" r="0.95" fill="#858585"/>
<circle cx="304.14" cy="418.5" r="0.95" fill="#858585"/>
<circle cx="269.75" cy="418.66" r="0.95" fill="#858585"/>
<circle cx="272.27" cy="419.17" r="0.95" fill="#858585"/>
<circle cx="287.92" cy="418.73" r="0.95" fill="#858585"/>
<circle cx="262.18" cy="419.04" r="0.95" fill="#858585"/>
<circle cx="278.25" cy="419.33" r="0.95" fill="#858585"/>
<circle cx="303.94" cy="419.58" r="0.95" fill="#858585"/>
<circle cx="284.68" cy="419.44" r="0.95" fill="#858585"/>
<circle cx="291.75" cy="418.31" r="0.95" fill="#858585"/>
<circle cx="301.58" cy="419.76" r="0.95" fill="#858585"/>
<circle cx="300.48" cy="419.8" r="0.95" fill="#858585"/>
<circle cx="279.26" cy="419" r="0.95" fill="#858585"/>
<circle cx="266.56" cy="419.47" r="0.95" fill="#858585"/>
<circle cx="264.74" cy="418.33" r="0.95" fill="#858585"/>
<circle cx="271.19" cy="418.52" r="0.95" fill="#858585"/>
<circle cx="276.96" cy="418.31" r="0.95" fill="#858585"/>
<circle cx="262.01" cy="418.5" r="0.95" fill="#858585"/>
<circle cx="266.46" cy="418.93" r="0.95" fill="#858585"/>
<circle cx="263.12" cy="419.95" r="0.95" fill="#858585"/>
<circle cx="289.02" cy="418.5" r="0.95" fill="#858585"/>
<circle cx="273.1" cy="418.89" r="0.95" fill="#858585"/>
<circle cx="278.02" cy="418.45" r="0.95" fill="#858585"/>
<circle cx="299.35" cy="420.19" r="0.95" fill="#858585"/>
<circle cx="282.5" cy="419.17" r="0.95" fill="#858585"/>
<circle cx="265.78" cy="418.4" r="0.95" fill="#858585"/>
<circle cx="277.08" cy="418.73" r="0.95" fill="#858585"/>
<circle cx="298.47" cy="418.52" r="0.95" fill="#858585"/>
<circle cx="263.02" cy="420.1" r="0.95" fill="#858585"/>
<circle cx="285.24" cy="418.49" r="0.95" fill="#858585"/>
<circle cx="285.9" cy="418.25" r="0.95" fill="#858585"/>
<circle cx="285.24" cy="420.16" r="0.95" fill="#858585"/>
<circle cx="299.99" cy="419.59" r="0.95" fill="#858585"/>
<circle cx="273.49" cy="418.93" r="0.95" fill="#858585"/>
<circle cx="269.35" cy="419.74" r="0.95" fill="#858585"/>
<circle cx="285.43" cy="419.76" r="0.95" fill="#858585"/>
<circle cx="276.51" cy="418.65" r="0.95" fill="#858585"/>
<circle cx="297.71" cy="420.17" r="0.95" fill="#858585"/>
<circle cx="299.52" cy="419.81" r="0.95" fill="#858585"/>
<circle cx="298.01" cy="419.68" r="0.95" fill="#858585"/>
<circle cx="271.98" cy="419.24" r="0.95" fill="#858585"/>
<circle cx="277.64" cy="418.26" r="0.95" fill="#858585"/>
<circle cx="263.23" cy="418.76" r="0.95" fill="#858585"/>
<circle cx="273.4" cy="419.59" r="0.95" fill="#858585"/>
<circle cx="304.09" cy="419.09" r="0.95" fill="#858585"/>
<circle cx="303.23" cy="420.18" r="0.95" fill="#858585"/>
<circle cx="304.02" cy="418.93" r="0.95" fill="#858585"/>
<circle cx="271.7" cy="418.65" r="0.95" fill="#858585"/>
<circle cx="270.66" cy="418.61" r="0.95" fill="#858585"/>
<circle cx="289.46" cy="420" r="0.95" fill="#858585"/>
<circle cx="298.98" cy="419.16" r="0.95" fill="#858585"/>
<circle cx="290.73" cy="419.8" r="0.95" fill="#858585"/>
<circle cx="265.73" cy="419.52" r="0.95" fill="#858585"/>
<circle cx="302.03" cy="419.76" r="0.95" fill="#858585"/>
<circle cx="295.01" cy="419.16" r="0.95" fill="#858585"/>
<circle cx="269.85" cy="419.78" r="0.95" fill="#858585"/>
<circle cx="276.63" cy="419.8" r="0.95" fill="#858585"/>
<circle cx="304.75" cy="418.99" r="0.95" fill="#858585"/>
<circle cx="279.66" cy="420.09" r="0.95" fill="#858585"/>
<circle cx="293.89" cy="418.54" r="0.95" fill="#858585"/>
<circle cx="267.59" cy="418.5" r="0.95" fill="#858585"/>
<circle cx="301.81" cy="419.81" r="0.95" fill="#858585"/>
<circle cx="268.43" cy="419.85" r="0.95" fill="#858585"/>
<circle cx="305.13" cy="419.51" r="0.95" fill="#858585"/>
<circle cx="277.42" cy="419.3" r="0.95" fill="#858585"/>
<circle cx="267.76" cy="418.23" r="0.95" fill="#858585"/>
<circle cx="304.72" cy="419.5" r="0.95" fill="#858585"/>
<circle cx="285.17" cy="420.07" r="0.95" fill="#858585"/>
<circle cx="281.09" cy="419.94" r="0.95" fill="#858585"/>
<circle cx="298.35" cy="418.62" r="0.95" fill="#858585"/>
<circle cx="273.08" cy="418.79" r="0.95" fill="#858585"/>
<circle cx="272.58" cy="419.37" r="0.95" fill="#858585"/>
<circle cx="273.41" cy="419.04" r="0.95" fill="#858585"/>
<circle cx="267.77" cy="420.02" r="0.95" fill="#858585"/>
<circle cx="277.57" cy="419.12" r="0.95" fill="#858585"/>
<circle cx="287.67" cy="420.01" r="0.95" fill="#858585"/>
<circle cx="280.51" cy="420.04" r="0.95" fill="#858585"/>
<circle cx="284.07" cy="419.26" r="0.95" fill="#858585"/>
<circle cx="285.03" cy="418.24" r="0.95" fill="#858585"/>
<circle cx="281.37" cy="418.57" r="0.95" fill="#858585"/>
<circle cx="262.17" cy="419.8" r="0.95" fill="#858585"/>
<circle cx="269.58" cy="419.15" r="0.95" fill="#858585"/>
<circle cx="293.91" cy="419.31" r="0.95" fill="#858585"/>
<circle cx="276.34" cy="419.24" r="0.95" fill="#858585"/>
<circle cx="286.44" cy="419.77" r="0.95" fill="#858585"/>
<circle cx="266.67" cy="419.32" r="0.95" fill="#858585"/>
<circle cx="272.93" cy="418.75" r="0.95" fill="#858585"/>
<circle cx="295.98" cy="419.22" r="0.95" fill="#858585"/>
<circle cx="286.72" cy="419.72" r="0.95" fill="#858585"/>
<circle cx="302.15" cy="419.09" r="0.95" fill="#858585"/>
<circle cx="288.95" cy="419.21" r="0.95" fill="#858585"/>
<circle cx="284.54" cy="419.59" r="0.95" fill="#858585"/>
<circle cx="281.9" cy="419.27" r="0.95" fill="#858585"/>
<circle cx="283.03" cy="420.08" r="0.95" fill="#858585"/>
<circle cx="292.77" cy="419.95" r="0.95" fill="#858585"/>
<circle cx="303.46" cy="418.72" r="0.95" fill="#858585"/>
<circle cx="286.62" cy="420.09" r="0.95" fill="#858585"/>
<circle cx="298.96" cy="418.47" r="0.95" fill="#858585"/>
<circle cx="267.35" cy="419.08" r="0.95" fill="#858585"/>
<circle cx="265.19" cy="418.68" r="0.95" fill="#858585"/>
<circle cx="265.22" cy="419.54" r="0.95" fill="#858585"/>
<circle cx="296.49" cy="419.99" r="0.95" fill="#858585"/>
<circle cx="268.8" cy="419.63" r="0.95" fill="#858585"/>
<circle cx="291.05" cy="418.49" r="0.95" fill="#858585"/>
<circle cx="300.84" cy="420.14" r="0.95" fill="#858585"/>
<circle cx="271.66" cy="420.11" r="0.95" fill="#858585"/>
<circle cx="279.52" cy="419.17" r="0.95" fill="#858585"/>
<circle cx="305.55" cy="419.86" r="0.95" fill="#858585"/>
<circle cx="269.1" cy="419.06" r="0.95" fill="#858585"/>
<circle cx="284.69" cy="418.88" r="0.95" fill="#858585"/>
<circle cx="270.61" cy="418.84" r="0.95" fill="#858585"/>
<circle cx="293.77" cy="418.24" r="0.95" fill="#858585"/>
<circle cx="286.38" cy="419.08" r="0.95" fill="#858585"/>
<circle cx="262.8" cy="418.86" r="0.95" fill="#858585"/>
<circle cx="289.45" cy="419.22" r="0.95" fill="#858585"/>
<circle cx="264.83" cy="420.17" r="0.95" fill="#858585"/>
<circle cx="296.69" cy="420.14" r="0.95" fill="#858585"/>
<circle cx="266.61" cy="418.73" r="0.95" fill="#858585"/>
<circle cx="263.74" cy="419.76" r="0.95" fill="#858585"/>
<circle cx="273.9" cy="418.46" r="0.95" fill="#858585"/>
<circle cx="280.58" cy="420.02" r="0.95" fill="#858585"/>
<circle cx="298.04" cy="418.72" r="0.95" fill="#858585"/>
<circle cx="268.57" cy="420.04" r="0.95" fill="#858585"/>
<circle cx="287.11" cy="419.6" r="0.95" fill="#858585"/>
<circle cx="265.94" cy="418.32" r="0.95" fill="#858585"/>
<circle cx="292.28" cy="419.05" r="0.95" fill="#858585"/>
<circle cx="265.19" cy="420.08" r="0.95" fill="#858585"/>
<circle cx="289.92" cy="419.8" r="0.95" fill="#858585"/>
<circle cx="265.68" cy="419.91" r="0.95" fill="#858585"/>
<circle cx="264.93" cy="419.93" r="0.95" fill="#858585"/>
<circle cx="281.97" cy="418.88" r="0.95" fill="#858585"/>
<circle cx="286.33" cy="420.05" r="0.95" fill="#858585"/>
<circle cx="273.79" cy="418.46" r="0.95" fill="#858585"/>
<circle cx="285.18" cy="418.68" r="0.95" fill="#858585"/>
<circle cx="266.82" cy="418.52" r="0.95" fill="#858585"/>
<circle cx="264.22" cy="418.6" r="0.95" fill="#858585"/>
<circle cx="275.73" cy="418.81" r="0.95" fill="#858585"/>
<circle cx="295.42" cy="418.78" r="0.95" fill="#858585"/>
<circle cx="284" cy="418.56" r="0.95" fill="#858585"/>
<circle cx="277.27" cy="418.24" r="0.95" fill="#858585"/>
<circle cx="273.02" cy="418.23" r="0.95" fill="#858585"/>
<circle cx="294.26" cy="419.3" r="0.95" fill="#858585"/>
<circle cx="270.34" cy="419.15" r="0.95" fill="#858585"/>
<circle cx="303.12" cy="418.41" r="0.95" fill="#858585"/>
<circle cx="298.03" cy="419.06" r="0.95" fill="#858585"/>
<circle cx="283.78" cy="419.87" r="0.95" fill="#858585"/>
<circle cx="279.3" cy="419.21" r="0.95" fill="#858585"/>
<circle cx="292.26" cy="420.16" r="0.95" fill="#858585"/>
<circle cx="277.08" cy="419.86" r="0.95" fill="#858585"/>
<circle cx="293.1" cy="419.47" r="0.95" fill="#858585"/>
<circle cx="279.81" cy="418.9" r="0.95" fill="#858585"/>
<circle cx="264.39" cy="418.46" r="0.95" fill="#858585"/>
<circle cx="265.11" cy="419.68" r="0.95" fill="#858585"/>
<circle cx="273.25" cy="418.53" r="0.95" fill="#858585"/>
<circle cx="265.72" cy="419.88" r="0.95" fill="#858585"/>
<circle cx="300.3" cy="419.54" r="0.95" fill="#858585"/>
<circle cx="274.41" cy="418.68" r="0.95" fill="#858585"/>
<circle cx="274.89" cy="419.12" r="0.95" fill="#858585"/>
<circle cx="268.93" cy="419.09" r="0.95" fill="#858585"/>
<circle cx="273.58" cy="420.12" r="0.95" fill="#858585"/>
<circle cx="304.8" cy="419.29" r="0.95" fill="#858585"/>
<circle cx="272.76" cy="420.13" r="0.95" fill="#858585"/>
<circle cx="275.62" cy="418.91" r="0.95" fill="#858585"/>
<circle cx="262.05" cy="418.96" r="0.95" fill="#858585"/>
<circle cx="282.88" cy="419.21" r="0.95" fill="#858585"/>
<circle cx="270.84" cy="419.21" r="0.95" fill="#858585"/>
<circle cx="262.22" cy="418.73" r="0.95" fill="#858585"/>
<circle cx="265.95" cy="419" r="0.95" fill="#858585"/>
<circle cx="263.83" cy="418.24" r="0.95" fill="#858585"/>
<circle cx="275.39" cy="418.67" r="0.95" fill="#858585"/>
<circle cx="287.77" cy="419.26" r="0.95" fill="#858585"/>
<circle cx="295.02" cy="419.52" r="0.95" fill="#858585"/>
<circle cx="293.5" cy="419.96" r="0.95" fill="#858585"/>
<circle cx="279.14" cy="418.85" r="0.95" fill="#858585"/>
<circle cx="305.33" cy="418.5" r="0.95" fill="#858585"/>
<circle cx="293.86" cy="419.49" r="0.95" fill="#858585"/>
<circle cx="263.93" cy="419.87" r="0.95" fill="#858585"/>
<circle cx="301.25" cy="419.45" r="0.95" fill="#858585"/>
<circle cx="294.29" cy="419.82" r="0.95" fill="#858585"/>
<circle cx="268.13" cy="419.25" r="0.95" fill="#858585"/>
<circle cx="284.19" cy="419.87" r="0.95" fill="#858585"/>
<circle cx="297.41" cy="419.85" r="0.95" fill="#858585"/>
<circle cx="287.7" cy="419.99" r="0.95" fill="#858585"/>
<circle cx="292.05" cy="419.59" r="0.95" fill="#858585"/>
<circle cx="272.12" cy="418.26" r="0.95" fill="#858585"/>
<circle cx="267.86" cy="418.92" r="0.95" fill="#858585"/>
<circle cx="266.62" cy="419.87" r="0.95" fill="#858585"/>
<circle cx="286.58" cy="419.46" r="0.95" fill="#858585"/>
<circle cx="289.55" cy="419.56" r="0.95" fill="#858585"/>
<circle cx="283.53" cy="418.21" r="0.95" fill="#858585"/>
<circle cx="297.1" cy="419.7" r="0.95" fill="#858585"/>
<circle cx="284.13" cy="419.27" r="0.95" fill="#858585"/>
<circle cx="291.01" cy="418.33" r="0.95" fill="#858585"/>
<circle cx="294.42" cy="418.7" r="0.95" fill="#858585"/>
<circle cx="265.28" cy="418.73" r="0.95" fill="#858585"/>
<circle cx="294.09" cy="418.61" r="0.95" fill="#858585"/>
<circle cx="294.55" cy="420.15" r="0.95" fill="#858585"/>
<circle cx="283.73" cy="418.97" r="0.95" fill="#858585"/>
<circle cx="283.08" cy="419.57" r="0.95" fill="#858585"/>
<circle cx="295.75" cy="419.43" r="0.95" fill="#858585"/>
<circle cx="290.28" cy="418.35" r="0.95" fill="#858585"/>
<circle cx="268.49" cy="418.71" r="0.95" fill="#858585"/>
<circle cx="294.7" cy="418.81" r="0.95" fill="#858585"/>
<circle cx="286.98" cy="418.22" r="0.95" fill="#858585"/>
<circle cx="264.67" cy="418.74" r="0.95" fill="#858585"/>
<circle cx="291.57" cy="419.58" r="0.95" fill="#858585"/>
<circle cx="291.73" cy="418.78" r="0.95" fill="#858585"/>
<circle cx="284.73" cy="419.13" r="0.95" fill="#858585"/>
<circle cx="282.52" cy="418.44" r="0.95" fill="#858585"/>
<circle cx="301.32" cy="418.6" r="0.95" fill="#858585"/>
<circle cx="329.48" cy="420.07" r="0.95" fill="#858585"/>
<circle cx="306.42" cy="419.12" r="0.95" fill="#858585"/>
<circle cx="325.68" cy="420.14" r="0.95" fill="#858585"/>
<circle cx="316.79" cy="418.74" r="0.95" fill="#858585"/>
<circle cx="311.04" cy="420.09" r="0.95" fill="#858585"/>
<circle cx="311.06" cy="419.36" r="0.95" fill="#858585"/>
<circle cx="309.4" cy="419.25" r="0.95" fill="#858585"/>
<circle cx="328.87" cy="418.47" r="0.95" fill="#858585"/>
<circle cx="325.69" cy="419.22" r="0.95" fill="#858585"/>
<circle cx="327.28" cy="419.61" r="0.95" fill="#858585"/>
<circle cx="311.55" cy="420" r="0.95" fill="#858585"/>
<circle cx="317.67" cy="418.25" r="0.95" fill="#858585"/>
<circle cx="306.09" cy="419.18" r="0.95" fill="#858585"/>
<circle cx="316.82" cy="418.8" r="0.95" fill="#858585"/>
<circle cx="309.38" cy="418.89" r="0.95" fill="#858585"/>
<circle cx="313.59" cy="419.88" r="0.95" fill="#858585"/>
<circle cx="306.04" cy="419.7" r="0.95" fill="#858585"/>
<circle cx="326.14" cy="418.44" r="0.95" fill="#858585"/>
<circle cx="328.23" cy="419.63" r="0.95" fill="#858585"/>
<circle cx="327.64" cy="418.78" r="0.95" fill="#858585"/>
<circle cx="239.4" cy="419.1" r="0.95" fill="#858585"/>
<circle cx="339.7" cy="419.11" r="0.95" fill="#858585"/>
<circle cx="355.7" cy="419.6" r="0.95" fill="#858585"/>
<text transform="translate(209.37 438.36) scale(0.93 1)" font-size="4.75" fill="#4a4a4a" stroke="#4a4a4a" text-anchor="start" font-weight="normal" >Surgery 2</text>
<line x1="235.9" y1="436.6" x2="242.2" y2="436.6" stroke="#2a9d7c" stroke-width="0.8" />
<line x1="268.8" y1="436.6" x2="284.6" y2="436.6" stroke="#2a9d7c" stroke-width="0.8" />
<line x1="235.9" y1="433.6" x2="235.9" y2="439.6" stroke="#2a9d7c" stroke-width="0.8" />
<line x1="284.6" y1="433.6" x2="284.6" y2="439.6" stroke="#2a9d7c" stroke-width="0.8" />
<rect x="242.2" y="430.1" width="26.6" height="12.9" fill="#8fd0bb" stroke="#2a9d7c" stroke-width="0.8" />
<line x1="250.9" y1="430.1" x2="250.9" y2="443" stroke="#2a9d7c" stroke-width="0.8" />
<line x1="260.4" y1="430.1" x2="260.4" y2="443" stroke="#2a9d7c" stroke-width="0.6" stroke-dasharray="0.8 0.8"/>
<circle cx="239.71" cy="446.02" r="1.05" fill="#13896a"/>
<circle cx="238.42" cy="445.85" r="1.05" fill="#13896a"/>
<circle cx="235.39" cy="445.5" r="1.05" fill="#13896a"/>
<circle cx="241.68" cy="445.87" r="1.05" fill="#13896a"/>
<circle cx="242.48" cy="445.8" r="1.05" fill="#13896a"/>
<circle cx="237.13" cy="446.32" r="1.05" fill="#13896a"/>
<circle cx="236.52" cy="446.05" r="1.05" fill="#13896a"/>
<circle cx="247.4" cy="446.66" r="1.05" fill="#13896a"/>
<circle cx="248.7" cy="446.61" r="1.05" fill="#13896a"/>
<circle cx="253" cy="446.55" r="1.05" fill="#13896a"/>
<circle cx="254.8" cy="446.4" r="1.05" fill="#13896a"/>
<circle cx="258" cy="446.63" r="1.05" fill="#13896a"/>
<circle cx="266.7" cy="446.65" r="1.05" fill="#13896a"/>
<circle cx="276.7" cy="446.34" r="1.05" fill="#13896a"/>
<circle cx="284.3" cy="446.48" r="1.05" fill="#13896a"/>
<circle cx="310.5" cy="445.94" r="1.05" fill="#13896a"/>
<circle cx="349.6" cy="446.49" r="1.05" fill="#13896a"/>
<text transform="translate(209.35 464.86) scale(0.93 1)" font-size="4.75" fill="#4a4a4a" stroke="#4a4a4a" text-anchor="start" font-weight="normal" >Surgery 1</text>
<line x1="234.6" y1="463.2" x2="238.1" y2="463.2" stroke="#2b8499" stroke-width="0.8" />
<line x1="258" y1="463.2" x2="277.3" y2="463.2" stroke="#2b8499" stroke-width="0.8" />
<line x1="234.6" y1="460.2" x2="234.6" y2="466.2" stroke="#2b8499" stroke-width="0.8" />
<line x1="277.3" y1="460.2" x2="277.3" y2="466.2" stroke="#2b8499" stroke-width="0.8" />
<rect x="238.1" y="456.7" width="19.9" height="13.5" fill="#92c4cf" stroke="#2b8499" stroke-width="0.8" />
<line x1="241.1" y1="456.7" x2="241.1" y2="470.2" stroke="#2b8499" stroke-width="0.8" />
<line x1="251.3" y1="456.7" x2="251.3" y2="470.2" stroke="#2b8499" stroke-width="0.6" stroke-dasharray="0.8 0.8"/>
<circle cx="239.96" cy="473.31" r="1.05" fill="#0f6a80"/>
<circle cx="242.09" cy="472.37" r="1.05" fill="#0f6a80"/>
<circle cx="235.54" cy="473.65" r="1.05" fill="#0f6a80"/>
<circle cx="236.4" cy="472.74" r="1.05" fill="#0f6a80"/>
<circle cx="238.78" cy="472.4" r="1.05" fill="#0f6a80"/>
<circle cx="243.13" cy="473.75" r="1.05" fill="#0f6a80"/>
<circle cx="237.86" cy="473.11" r="1.05" fill="#0f6a80"/>
<circle cx="238.31" cy="472.91" r="1.05" fill="#0f6a80"/>
<circle cx="239.34" cy="472.13" r="1.05" fill="#0f6a80"/>
<circle cx="236.78" cy="472.22" r="1.05" fill="#0f6a80"/>
<circle cx="244.97" cy="472.79" r="1.05" fill="#0f6a80"/>
<circle cx="237.42" cy="473.61" r="1.05" fill="#0f6a80"/>
<circle cx="245.7" cy="473.2" r="1.05" fill="#0f6a80"/>
<circle cx="250.4" cy="472.76" r="1.05" fill="#0f6a80"/>
<circle cx="252.2" cy="472.51" r="1.05" fill="#0f6a80"/>
<circle cx="256.6" cy="472.55" r="1.05" fill="#0f6a80"/>
<circle cx="260" cy="472.47" r="1.05" fill="#0f6a80"/>
<circle cx="273.2" cy="472.67" r="1.05" fill="#0f6a80"/>
<circle cx="277.3" cy="472.47" r="1.05" fill="#0f6a80"/>
<circle cx="288.5" cy="472.59" r="1.05" fill="#0f6a80"/>
<circle cx="303.7" cy="472.61" r="1.05" fill="#0f6a80"/>
<text transform="translate(362.3 376.9) scale(0.819 1)" font-size="13.188405797101401" fill="#111" stroke="#111" text-anchor="start" font-weight="bold" >E</text>
</g>
</svg></body></html>
